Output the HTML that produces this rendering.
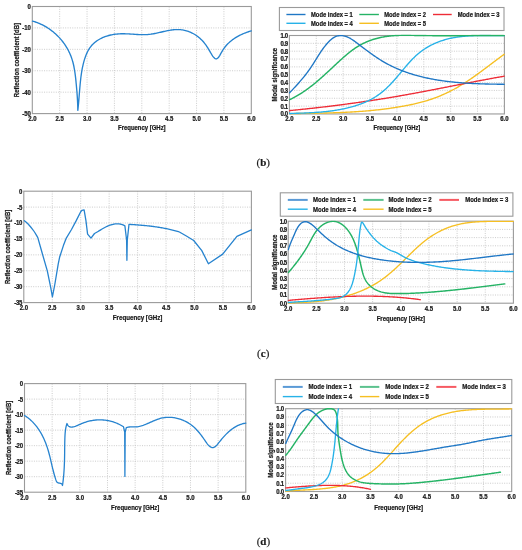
<!DOCTYPE html>
<html><head><meta charset="utf-8"><style>
html,body{margin:0;padding:0;background:#fff;}
body{width:522px;height:550px;overflow:hidden;}
svg{display:block;will-change:transform;}
</style></head><body>
<svg width="522" height="550" viewBox="0 0 522 550">
<rect width="522" height="550" fill="#fff"/>
<path d="M59.67,6.5V113.6M87.05,6.5V113.6M114.42,6.5V113.6M141.8,6.5V113.6M169.18,6.5V113.6M196.55,6.5V113.6M223.93,6.5V113.6M32.3,27.92H251.3M32.3,49.34H251.3M32.3,70.76H251.3M32.3,92.18H251.3" stroke="#c6c6c6" stroke-width="0.9" stroke-dasharray="1,1.35" fill="none"/>
<rect x="32.3" y="6.5" width="219" height="107.1" fill="none" stroke="#9a9a9a" stroke-width="1.1"/>
<clipPath id="ca"><rect x="31.3" y="5.5" width="221" height="109.1"/></clipPath>
<text x="0" y="0" font-size="6" text-anchor="middle" font-weight="bold" fill="#1a1a1a" stroke="#1a1a1a" stroke-width="0.22" font-family='"Liberation Sans", sans-serif' transform="translate(32.3,120.86) scale(1,1.12)">2.0</text>
<text x="0" y="0" font-size="6" text-anchor="middle" font-weight="bold" fill="#1a1a1a" stroke="#1a1a1a" stroke-width="0.22" font-family='"Liberation Sans", sans-serif' transform="translate(59.67,120.86) scale(1,1.12)">2.5</text>
<text x="0" y="0" font-size="6" text-anchor="middle" font-weight="bold" fill="#1a1a1a" stroke="#1a1a1a" stroke-width="0.22" font-family='"Liberation Sans", sans-serif' transform="translate(87.05,120.86) scale(1,1.12)">3.0</text>
<text x="0" y="0" font-size="6" text-anchor="middle" font-weight="bold" fill="#1a1a1a" stroke="#1a1a1a" stroke-width="0.22" font-family='"Liberation Sans", sans-serif' transform="translate(114.42,120.86) scale(1,1.12)">3.5</text>
<text x="0" y="0" font-size="6" text-anchor="middle" font-weight="bold" fill="#1a1a1a" stroke="#1a1a1a" stroke-width="0.22" font-family='"Liberation Sans", sans-serif' transform="translate(141.8,120.86) scale(1,1.12)">4.0</text>
<text x="0" y="0" font-size="6" text-anchor="middle" font-weight="bold" fill="#1a1a1a" stroke="#1a1a1a" stroke-width="0.22" font-family='"Liberation Sans", sans-serif' transform="translate(169.18,120.86) scale(1,1.12)">4.5</text>
<text x="0" y="0" font-size="6" text-anchor="middle" font-weight="bold" fill="#1a1a1a" stroke="#1a1a1a" stroke-width="0.22" font-family='"Liberation Sans", sans-serif' transform="translate(196.55,120.86) scale(1,1.12)">5.0</text>
<text x="0" y="0" font-size="6" text-anchor="middle" font-weight="bold" fill="#1a1a1a" stroke="#1a1a1a" stroke-width="0.22" font-family='"Liberation Sans", sans-serif' transform="translate(223.93,120.86) scale(1,1.12)">5.5</text>
<text x="0" y="0" font-size="6" text-anchor="middle" font-weight="bold" fill="#1a1a1a" stroke="#1a1a1a" stroke-width="0.22" font-family='"Liberation Sans", sans-serif' transform="translate(251.3,120.86) scale(1,1.12)">6.0</text>
<text x="0" y="0" font-size="6" text-anchor="end" font-weight="bold" fill="#1a1a1a" stroke="#1a1a1a" stroke-width="0.22" font-family='"Liberation Sans", sans-serif' transform="translate(30.8,8.92) scale(1,1.12)">0</text>
<text x="0" y="0" font-size="6" text-anchor="end" font-weight="bold" fill="#1a1a1a" stroke="#1a1a1a" stroke-width="0.22" font-family='"Liberation Sans", sans-serif' transform="translate(30.8,30.34) scale(1,1.12)">-10</text>
<text x="0" y="0" font-size="6" text-anchor="end" font-weight="bold" fill="#1a1a1a" stroke="#1a1a1a" stroke-width="0.22" font-family='"Liberation Sans", sans-serif' transform="translate(30.8,51.76) scale(1,1.12)">-20</text>
<text x="0" y="0" font-size="6" text-anchor="end" font-weight="bold" fill="#1a1a1a" stroke="#1a1a1a" stroke-width="0.22" font-family='"Liberation Sans", sans-serif' transform="translate(30.8,73.18) scale(1,1.12)">-30</text>
<text x="0" y="0" font-size="6" text-anchor="end" font-weight="bold" fill="#1a1a1a" stroke="#1a1a1a" stroke-width="0.22" font-family='"Liberation Sans", sans-serif' transform="translate(30.8,94.6) scale(1,1.12)">-40</text>
<text x="0" y="0" font-size="6" text-anchor="end" font-weight="bold" fill="#1a1a1a" stroke="#1a1a1a" stroke-width="0.22" font-family='"Liberation Sans", sans-serif' transform="translate(30.8,116.02) scale(1,1.12)">-50</text>
<text x="0" y="0" font-size="5.96" text-anchor="middle" font-weight="bold" fill="#1a1a1a" stroke="#1a1a1a" stroke-width="0.22" font-family='"Liberation Sans", sans-serif' transform="translate(141.8,130.46) scale(1,1.12)">Frequency [GHz]</text>
<text x="0" y="0" font-size="6" text-anchor="middle" font-weight="bold" fill="#1a1a1a" stroke="#1a1a1a" stroke-width="0.22" font-family='"Liberation Sans", sans-serif' transform="translate(18.86,60.05) rotate(-90) scale(1,1.12)">Reflection coefficient [dB]</text>
<path d="M32.5,21.1L33.48,21.38L34.46,21.69L35.43,22.01L36.39,22.34L37.35,22.7L38.3,23.07L39.24,23.46L40.17,23.87L41.1,24.29L42.01,24.73L42.92,25.18L43.82,25.66L44.72,26.14L45.6,26.65L46.47,27.17L47.34,27.7L48.19,28.25L49.04,28.81L49.87,29.39L50.7,29.98L51.51,30.59L52.32,31.21L53.11,31.84L53.9,32.49L54.67,33.15L55.43,33.82L56.18,34.5L56.91,35.2L57.64,35.91L58.35,36.63L59.05,37.37L59.74,38.11L60.41,38.87L61.07,39.64L61.72,40.42L62.36,41.21L62.98,42.01L63.59,42.82L64.18,43.64L64.76,44.47L65.32,45.31L65.87,46.16L66.41,47.02L66.93,47.88L67.43,48.76L67.92,49.64L68.39,50.54L68.85,51.44L69.29,52.35L69.72,53.26L70.12,54.19L70.51,55.12L70.89,56.06L71.25,57L71.59,57.95L71.91,58.91L72.21,59.87L72.5,60.84L72.78,61.81L73.04,62.79L73.29,63.78L73.52,64.77L73.74,65.76L73.95,66.76L74.14,67.76L74.33,68.76L74.5,69.76L74.67,70.77L74.82,71.78L74.97,72.8L75.11,73.81L75.24,74.83L75.37,75.84L75.49,76.86L75.61,77.88L75.72,78.9L75.82,79.92L75.93,80.94L76.03,81.95L76.12,82.97L76.22,83.98L76.32,85L76.41,86.01L76.5,87.02L76.59,88.03L76.68,89.04L76.77,90.05L76.85,91.06L76.94,92.06L77.02,93.07L77.09,94.08L77.17,95.09L77.24,96.09L77.31,97.1L77.37,98.11L77.43,99.12L77.49,100.13L77.54,101.14L77.59,102.15L77.63,103.16L77.67,104.18L77.71,105.19L77.74,106.21L77.76,107.23L77.78,108.25L77.79,109.27L77.8,110.3L77.92,109.32L78.03,108.33L78.14,107.34L78.24,106.34L78.34,105.35L78.44,104.35L78.54,103.35L78.63,102.35L78.72,101.35L78.81,100.34L78.89,99.34L78.98,98.33L79.06,97.32L79.14,96.31L79.22,95.3L79.3,94.29L79.38,93.28L79.46,92.27L79.55,91.26L79.63,90.26L79.71,89.25L79.8,88.24L79.88,87.23L79.97,86.23L80.06,85.22L80.15,84.22L80.25,83.22L80.35,82.22L80.45,81.23L80.56,80.23L80.67,79.24L80.78,78.25L80.9,77.26L81.03,76.28L81.16,75.3L81.29,74.32L81.44,73.34L81.59,72.37L81.74,71.39L81.91,70.42L82.09,69.44L82.27,68.47L82.47,67.49L82.67,66.52L82.89,65.54L83.11,64.56L83.35,63.58L83.61,62.6L83.87,61.61L84.15,60.62L84.44,59.64L84.75,58.65L85.08,57.67L85.42,56.69L85.79,55.72L86.17,54.76L86.57,53.81L86.99,52.87L87.43,51.95L87.9,51.04L88.38,50.15L88.9,49.29L89.43,48.44L89.99,47.62L90.58,46.82L91.2,46.05L91.84,45.3L92.51,44.58L93.2,43.89L93.91,43.22L94.65,42.57L95.4,41.95L96.18,41.36L96.98,40.79L97.8,40.24L98.63,39.72L99.48,39.23L100.35,38.75L101.24,38.3L102.13,37.87L103.05,37.47L103.97,37.08L104.91,36.72L105.85,36.38L106.81,36.07L107.78,35.77L108.76,35.5L109.74,35.25L110.73,35.01L111.72,34.8L112.72,34.61L113.73,34.44L114.74,34.29L115.75,34.16L116.76,34.05L117.77,33.96L118.79,33.88L119.8,33.83L120.81,33.79L121.82,33.77L122.83,33.76L123.84,33.77L124.84,33.78L125.85,33.81L126.86,33.85L127.86,33.9L128.86,33.95L129.87,34.01L130.87,34.07L131.87,34.14L132.87,34.2L133.87,34.27L134.87,34.34L135.87,34.4L136.87,34.46L137.87,34.52L138.86,34.57L139.86,34.61L140.86,34.64L141.85,34.66L142.85,34.67L143.84,34.67L144.84,34.65L145.83,34.62L146.82,34.57L147.81,34.51L148.81,34.42L149.8,34.31L150.79,34.19L151.78,34.04L152.77,33.88L153.76,33.71L154.75,33.52L155.74,33.32L156.73,33.11L157.72,32.9L158.71,32.67L159.7,32.45L160.69,32.22L161.68,31.99L162.67,31.76L163.66,31.53L164.65,31.31L165.64,31.09L166.63,30.88L167.62,30.68L168.61,30.5L169.6,30.32L170.59,30.16L171.58,30.01L172.57,29.88L173.56,29.77L174.55,29.69L175.54,29.62L176.53,29.58L177.52,29.57L178.51,29.58L179.5,29.62L180.5,29.7L181.49,29.8L182.48,29.94L183.47,30.12L184.46,30.32L185.45,30.56L186.42,30.83L187.4,31.13L188.36,31.45L189.32,31.81L190.26,32.19L191.2,32.6L192.12,33.04L193.02,33.5L193.91,33.99L194.79,34.5L195.64,35.04L196.48,35.6L197.3,36.18L198.09,36.78L198.87,37.41L199.63,38.05L200.36,38.72L201.08,39.4L201.79,40.1L202.47,40.82L203.13,41.55L203.78,42.3L204.41,43.07L205.02,43.85L205.61,44.64L206.19,45.45L206.75,46.27L207.29,47.1L207.82,47.94L208.34,48.8L208.86,49.66L209.37,50.54L209.89,51.43L210.41,52.33L210.95,53.25L211.51,54.19L212.09,55.12L212.69,56.03L213.31,56.88L213.94,57.62L214.59,58.21L215.24,58.63L215.9,58.84L216.57,58.79L217.23,58.49L217.89,57.97L218.52,57.29L219.12,56.48L219.69,55.59L220.23,54.64L220.76,53.67L221.28,52.71L221.81,51.79L222.35,50.89L222.89,50.01L223.44,49.17L224.01,48.34L224.59,47.54L225.19,46.76L225.82,46L226.46,45.25L227.12,44.53L227.81,43.82L228.52,43.12L229.24,42.45L229.98,41.79L230.74,41.15L231.52,40.52L232.31,39.91L233.12,39.32L233.95,38.75L234.78,38.19L235.63,37.65L236.5,37.12L237.37,36.61L238.25,36.12L239.15,35.64L240.05,35.18L240.96,34.74L241.88,34.31L242.8,33.9L243.73,33.5L244.67,33.12L245.61,32.76L246.55,32.41L247.5,32.08L248.45,31.76L249.4,31.46L250.35,31.17L251.3,30.9" fill="none" stroke="#2683cf" stroke-width="1.35" stroke-linejoin="round" stroke-linecap="round"/>
<rect x="279.4" y="7.5" width="224.6" height="23" fill="#fff" stroke="#9a9a9a" stroke-width="1.1"/>
<path d="M286.4,14.5H305.5" stroke="#1f77c5" stroke-width="1.4"/>
<text x="0" y="0" font-size="5.83" text-anchor="start" font-weight="bold" fill="#1a1a1a" stroke="#1a1a1a" stroke-width="0.22" font-family='"Liberation Sans", sans-serif' transform="translate(311,16.85) scale(1,1.12)">Mode index = 1</text>
<path d="M359.3,14.5H378.9" stroke="#25b365" stroke-width="1.4"/>
<text x="0" y="0" font-size="5.83" text-anchor="start" font-weight="bold" fill="#1a1a1a" stroke="#1a1a1a" stroke-width="0.22" font-family='"Liberation Sans", sans-serif' transform="translate(384.2,16.85) scale(1,1.12)">Mode index = 2</text>
<path d="M433,14.5H451.7" stroke="#ee2c36" stroke-width="1.4"/>
<text x="0" y="0" font-size="5.83" text-anchor="start" font-weight="bold" fill="#1a1a1a" stroke="#1a1a1a" stroke-width="0.22" font-family='"Liberation Sans", sans-serif' transform="translate(457.7,16.85) scale(1,1.12)">Mode index = 3</text>
<path d="M286.4,23.3H305.5" stroke="#27b2e8" stroke-width="1.4"/>
<text x="0" y="0" font-size="5.83" text-anchor="start" font-weight="bold" fill="#1a1a1a" stroke="#1a1a1a" stroke-width="0.22" font-family='"Liberation Sans", sans-serif' transform="translate(311,25.65) scale(1,1.12)">Mode index = 4</text>
<path d="M359.3,23.3H378.9" stroke="#f6bf22" stroke-width="1.4"/>
<text x="0" y="0" font-size="5.83" text-anchor="start" font-weight="bold" fill="#1a1a1a" stroke="#1a1a1a" stroke-width="0.22" font-family='"Liberation Sans", sans-serif' transform="translate(384.2,25.65) scale(1,1.12)">Mode index = 5</text>
<path d="M316.27,35.5V113.95M343.15,35.5V113.95M370.02,35.5V113.95M396.9,35.5V113.95M423.77,35.5V113.95M450.65,35.5V113.95M477.52,35.5V113.95M289.4,43.34H504.4M289.4,51.19H504.4M289.4,59.04H504.4M289.4,66.88H504.4M289.4,74.72H504.4M289.4,82.57H504.4M289.4,90.41H504.4M289.4,98.26H504.4M289.4,106.11H504.4" stroke="#c6c6c6" stroke-width="0.9" stroke-dasharray="1,1.35" fill="none"/>
<rect x="289.4" y="35.5" width="215" height="78.45" fill="none" stroke="#9a9a9a" stroke-width="1.1"/>
<clipPath id="cb"><rect x="288.4" y="34.5" width="217" height="80.45"/></clipPath>
<text x="0" y="0" font-size="6" text-anchor="middle" font-weight="bold" fill="#1a1a1a" stroke="#1a1a1a" stroke-width="0.22" font-family='"Liberation Sans", sans-serif' transform="translate(289.4,120.96) scale(1,1.12)">2.0</text>
<text x="0" y="0" font-size="6" text-anchor="middle" font-weight="bold" fill="#1a1a1a" stroke="#1a1a1a" stroke-width="0.22" font-family='"Liberation Sans", sans-serif' transform="translate(316.27,120.96) scale(1,1.12)">2.5</text>
<text x="0" y="0" font-size="6" text-anchor="middle" font-weight="bold" fill="#1a1a1a" stroke="#1a1a1a" stroke-width="0.22" font-family='"Liberation Sans", sans-serif' transform="translate(343.15,120.96) scale(1,1.12)">3.0</text>
<text x="0" y="0" font-size="6" text-anchor="middle" font-weight="bold" fill="#1a1a1a" stroke="#1a1a1a" stroke-width="0.22" font-family='"Liberation Sans", sans-serif' transform="translate(370.02,120.96) scale(1,1.12)">3.5</text>
<text x="0" y="0" font-size="6" text-anchor="middle" font-weight="bold" fill="#1a1a1a" stroke="#1a1a1a" stroke-width="0.22" font-family='"Liberation Sans", sans-serif' transform="translate(396.9,120.96) scale(1,1.12)">4.0</text>
<text x="0" y="0" font-size="6" text-anchor="middle" font-weight="bold" fill="#1a1a1a" stroke="#1a1a1a" stroke-width="0.22" font-family='"Liberation Sans", sans-serif' transform="translate(423.77,120.96) scale(1,1.12)">4.5</text>
<text x="0" y="0" font-size="6" text-anchor="middle" font-weight="bold" fill="#1a1a1a" stroke="#1a1a1a" stroke-width="0.22" font-family='"Liberation Sans", sans-serif' transform="translate(450.65,120.96) scale(1,1.12)">5.0</text>
<text x="0" y="0" font-size="6" text-anchor="middle" font-weight="bold" fill="#1a1a1a" stroke="#1a1a1a" stroke-width="0.22" font-family='"Liberation Sans", sans-serif' transform="translate(477.52,120.96) scale(1,1.12)">5.5</text>
<text x="0" y="0" font-size="6" text-anchor="middle" font-weight="bold" fill="#1a1a1a" stroke="#1a1a1a" stroke-width="0.22" font-family='"Liberation Sans", sans-serif' transform="translate(504.4,120.96) scale(1,1.12)">6.0</text>
<text x="0" y="0" font-size="6" text-anchor="end" font-weight="bold" fill="#1a1a1a" stroke="#1a1a1a" stroke-width="0.22" font-family='"Liberation Sans", sans-serif' letter-spacing="-0.4" transform="translate(287.6,37.92) scale(1,1.12)">1.0</text>
<text x="0" y="0" font-size="6" text-anchor="end" font-weight="bold" fill="#1a1a1a" stroke="#1a1a1a" stroke-width="0.22" font-family='"Liberation Sans", sans-serif' letter-spacing="-0.4" transform="translate(287.6,45.76) scale(1,1.12)">0.9</text>
<text x="0" y="0" font-size="6" text-anchor="end" font-weight="bold" fill="#1a1a1a" stroke="#1a1a1a" stroke-width="0.22" font-family='"Liberation Sans", sans-serif' letter-spacing="-0.4" transform="translate(287.6,53.61) scale(1,1.12)">0.8</text>
<text x="0" y="0" font-size="6" text-anchor="end" font-weight="bold" fill="#1a1a1a" stroke="#1a1a1a" stroke-width="0.22" font-family='"Liberation Sans", sans-serif' letter-spacing="-0.4" transform="translate(287.6,61.45) scale(1,1.12)">0.7</text>
<text x="0" y="0" font-size="6" text-anchor="end" font-weight="bold" fill="#1a1a1a" stroke="#1a1a1a" stroke-width="0.22" font-family='"Liberation Sans", sans-serif' letter-spacing="-0.4" transform="translate(287.6,69.3) scale(1,1.12)">0.6</text>
<text x="0" y="0" font-size="6" text-anchor="end" font-weight="bold" fill="#1a1a1a" stroke="#1a1a1a" stroke-width="0.22" font-family='"Liberation Sans", sans-serif' letter-spacing="-0.4" transform="translate(287.6,77.14) scale(1,1.12)">0.5</text>
<text x="0" y="0" font-size="6" text-anchor="end" font-weight="bold" fill="#1a1a1a" stroke="#1a1a1a" stroke-width="0.22" font-family='"Liberation Sans", sans-serif' letter-spacing="-0.4" transform="translate(287.6,84.99) scale(1,1.12)">0.4</text>
<text x="0" y="0" font-size="6" text-anchor="end" font-weight="bold" fill="#1a1a1a" stroke="#1a1a1a" stroke-width="0.22" font-family='"Liberation Sans", sans-serif' letter-spacing="-0.4" transform="translate(287.6,92.83) scale(1,1.12)">0.3</text>
<text x="0" y="0" font-size="6" text-anchor="end" font-weight="bold" fill="#1a1a1a" stroke="#1a1a1a" stroke-width="0.22" font-family='"Liberation Sans", sans-serif' letter-spacing="-0.4" transform="translate(287.6,100.68) scale(1,1.12)">0.2</text>
<text x="0" y="0" font-size="6" text-anchor="end" font-weight="bold" fill="#1a1a1a" stroke="#1a1a1a" stroke-width="0.22" font-family='"Liberation Sans", sans-serif' letter-spacing="-0.4" transform="translate(287.6,108.52) scale(1,1.12)">0.1</text>
<text x="0" y="0" font-size="6" text-anchor="end" font-weight="bold" fill="#1a1a1a" stroke="#1a1a1a" stroke-width="0.22" font-family='"Liberation Sans", sans-serif' letter-spacing="-0.4" transform="translate(287.6,116.37) scale(1,1.12)">0.0</text>
<text x="0" y="0" font-size="5.85" text-anchor="middle" font-weight="bold" fill="#1a1a1a" stroke="#1a1a1a" stroke-width="0.22" font-family='"Liberation Sans", sans-serif' transform="translate(396.9,130.25) scale(1,1.12)">Frequency [GHz]</text>
<text x="0" y="0" font-size="6" text-anchor="middle" font-weight="bold" fill="#1a1a1a" stroke="#1a1a1a" stroke-width="0.22" font-family='"Liberation Sans", sans-serif' transform="translate(276.76,74.72) rotate(-90) scale(1,1.12)">Modal significance</text>
<path d="M289.6,113.6L290.6,113.59L291.6,113.58L292.6,113.56L293.61,113.55L294.61,113.54L295.61,113.52L296.61,113.51L297.62,113.5L298.62,113.48L299.62,113.47L300.62,113.46L301.63,113.44L302.63,113.43L303.63,113.42L304.64,113.4L305.64,113.39L306.65,113.37L307.65,113.36L308.66,113.34L309.66,113.33L310.66,113.31L311.67,113.3L312.67,113.28L313.68,113.26L314.68,113.25L315.69,113.23L316.69,113.21L317.7,113.19L318.7,113.17L319.71,113.15L320.72,113.13L321.72,113.1L322.73,113.08L323.73,113.06L324.74,113.03L325.74,113.01L326.75,112.98L327.75,112.95L328.76,112.93L329.77,112.9L330.77,112.87L331.78,112.84L332.78,112.8L333.79,112.77L334.79,112.74L335.8,112.7L336.8,112.67L337.81,112.63L338.82,112.59L339.82,112.55L340.83,112.51L341.83,112.47L342.84,112.42L343.84,112.38L344.85,112.33L345.85,112.28L346.85,112.23L347.86,112.18L348.86,112.13L349.87,112.07L350.87,112.02L351.88,111.96L352.88,111.9L353.88,111.84L354.89,111.78L355.89,111.72L356.89,111.65L357.9,111.58L358.9,111.51L359.9,111.44L360.9,111.37L361.9,111.3L362.91,111.22L363.91,111.14L364.91,111.06L365.91,110.98L366.91,110.89L367.91,110.81L368.91,110.72L369.91,110.63L370.91,110.53L371.91,110.44L372.91,110.34L373.91,110.24L374.91,110.14L375.91,110.04L376.91,109.93L377.9,109.82L378.9,109.71L379.9,109.6L380.9,109.48L381.89,109.36L382.89,109.24L383.88,109.12L384.88,108.99L385.87,108.86L386.87,108.73L387.86,108.6L388.86,108.46L389.85,108.32L390.84,108.18L391.84,108.04L392.83,107.89L393.82,107.74L394.81,107.59L395.8,107.43L396.79,107.27L397.78,107.11L398.77,106.95L399.76,106.78L400.75,106.61L401.74,106.44L402.73,106.26L403.72,106.08L404.7,105.9L405.69,105.71L406.68,105.52L407.66,105.33L408.65,105.13L409.63,104.93L410.61,104.73L411.59,104.52L412.58,104.31L413.56,104.09L414.54,103.87L415.51,103.65L416.49,103.42L417.47,103.18L418.44,102.94L419.41,102.7L420.39,102.45L421.36,102.19L422.32,101.93L423.29,101.66L424.26,101.39L425.22,101.11L426.18,100.83L427.14,100.54L428.1,100.24L429.06,99.94L430.01,99.63L430.96,99.31L431.91,98.99L432.86,98.66L433.81,98.32L434.75,97.98L435.69,97.63L436.63,97.27L437.57,96.9L438.5,96.53L439.43,96.15L440.36,95.77L441.29,95.38L442.21,94.98L443.13,94.58L444.05,94.17L444.96,93.75L445.88,93.33L446.79,92.9L447.69,92.46L448.6,92.02L449.5,91.58L450.4,91.12L451.29,90.67L452.18,90.2L453.07,89.73L453.96,89.26L454.84,88.77L455.72,88.29L456.6,87.8L457.47,87.3L458.34,86.8L459.21,86.29L460.07,85.78L460.93,85.26L461.79,84.74L462.64,84.21L463.49,83.68L464.34,83.14L465.19,82.6L466.03,82.06L466.87,81.51L467.71,80.96L468.54,80.4L469.38,79.84L470.21,79.28L471.04,78.71L471.86,78.14L472.69,77.57L473.51,76.99L474.33,76.42L475.15,75.84L475.97,75.25L476.78,74.67L477.6,74.08L478.41,73.49L479.22,72.9L480.04,72.3L480.85,71.71L481.65,71.11L482.46,70.51L483.27,69.91L484.07,69.31L484.88,68.71L485.68,68.11L486.49,67.5L487.29,66.9L488.09,66.29L488.9,65.69L489.7,65.08L490.5,64.48L491.3,63.87L492.11,63.27L492.91,62.66L493.71,62.06L494.51,61.45L495.32,60.85L496.12,60.25L496.93,59.65L497.73,59.05L498.54,58.45L499.34,57.85L500.15,57.25L500.96,56.66L501.77,56.07L502.58,55.48L503.39,54.89L504.2,54.3" fill="none" stroke="#f6bf22" stroke-width="1.35" stroke-linejoin="round" stroke-linecap="round" clip-path="url(#cb)"/>
<path d="M289.6,110.6L290.6,110.5L291.6,110.4L292.61,110.3L293.61,110.2L294.61,110.11L295.61,110.01L296.62,109.9L297.62,109.8L298.62,109.7L299.62,109.6L300.63,109.5L301.63,109.39L302.63,109.29L303.63,109.18L304.63,109.08L305.64,108.97L306.64,108.86L307.64,108.76L308.64,108.65L309.64,108.54L310.64,108.43L311.64,108.32L312.64,108.21L313.65,108.1L314.65,107.99L315.65,107.87L316.65,107.76L317.65,107.65L318.65,107.53L319.65,107.42L320.65,107.3L321.65,107.19L322.65,107.07L323.65,106.95L324.65,106.83L325.65,106.71L326.65,106.59L327.65,106.47L328.65,106.35L329.65,106.23L330.65,106.11L331.65,105.99L332.65,105.86L333.65,105.74L334.65,105.61L335.65,105.49L336.64,105.36L337.64,105.23L338.64,105.11L339.64,104.98L340.64,104.85L341.64,104.72L342.64,104.59L343.63,104.46L344.63,104.32L345.63,104.19L346.63,104.06L347.63,103.93L348.62,103.79L349.62,103.66L350.62,103.52L351.62,103.38L352.61,103.24L353.61,103.11L354.61,102.97L355.6,102.83L356.6,102.69L357.6,102.55L358.59,102.41L359.59,102.26L360.59,102.12L361.58,101.98L362.58,101.83L363.58,101.69L364.57,101.54L365.57,101.39L366.56,101.25L367.56,101.1L368.55,100.95L369.55,100.8L370.55,100.65L371.54,100.5L372.54,100.35L373.53,100.19L374.53,100.04L375.52,99.89L376.51,99.73L377.51,99.58L378.5,99.42L379.5,99.26L380.49,99.1L381.49,98.95L382.48,98.79L383.47,98.63L384.47,98.46L385.46,98.3L386.45,98.14L387.45,97.98L388.44,97.81L389.43,97.65L390.42,97.48L391.42,97.32L392.41,97.15L393.4,96.98L394.39,96.81L395.39,96.64L396.38,96.47L397.37,96.3L398.36,96.13L399.35,95.96L400.34,95.79L401.34,95.61L402.33,95.44L403.32,95.26L404.31,95.09L405.3,94.91L406.29,94.73L407.28,94.55L408.27,94.37L409.26,94.2L410.25,94.01L411.24,93.83L412.23,93.65L413.22,93.47L414.21,93.29L415.2,93.11L416.19,92.92L417.18,92.74L418.17,92.55L419.16,92.37L420.15,92.18L421.14,92L422.13,91.81L423.12,91.62L424.1,91.44L425.09,91.25L426.08,91.06L427.07,90.87L428.06,90.68L429.05,90.49L430.04,90.3L431.02,90.11L432.01,89.92L433,89.73L433.99,89.54L434.98,89.35L435.97,89.16L436.95,88.97L437.94,88.78L438.93,88.59L439.92,88.39L440.91,88.2L441.9,88.01L442.88,87.82L443.87,87.62L444.86,87.43L445.85,87.24L446.84,87.04L447.82,86.85L448.81,86.66L449.8,86.46L450.79,86.27L451.78,86.08L452.76,85.88L453.75,85.69L454.74,85.5L455.73,85.31L456.71,85.11L457.7,84.92L458.69,84.73L459.68,84.53L460.67,84.34L461.65,84.15L462.64,83.96L463.63,83.76L464.62,83.57L465.61,83.38L466.6,83.19L467.58,83L468.57,82.8L469.56,82.61L470.55,82.42L471.54,82.23L472.53,82.04L473.51,81.85L474.5,81.66L475.49,81.47L476.48,81.28L477.47,81.1L478.46,80.91L479.45,80.72L480.44,80.53L481.42,80.34L482.41,80.16L483.4,79.97L484.39,79.79L485.38,79.6L486.37,79.42L487.36,79.23L488.35,79.05L489.34,78.87L490.33,78.68L491.32,78.5L492.31,78.32L493.3,78.14L494.29,77.96L495.28,77.78L496.27,77.6L497.26,77.42L498.25,77.24L499.24,77.07L500.23,76.89L501.22,76.72L502.22,76.54L503.21,76.37L504.2,76.19" fill="none" stroke="#ee2c36" stroke-width="1.35" stroke-linejoin="round" stroke-linecap="round" clip-path="url(#cb)"/>
<path d="M289.6,113.5L290.6,113.47L291.59,113.44L292.59,113.41L293.59,113.38L294.58,113.35L295.58,113.32L296.58,113.29L297.58,113.26L298.59,113.23L299.59,113.2L300.59,113.16L301.6,113.13L302.6,113.09L303.61,113.05L304.61,113.01L305.62,112.97L306.62,112.93L307.63,112.88L308.64,112.84L309.65,112.79L310.65,112.73L311.66,112.68L312.67,112.62L313.68,112.56L314.69,112.5L315.69,112.43L316.7,112.36L317.71,112.29L318.72,112.21L319.73,112.13L320.73,112.05L321.74,111.96L322.75,111.87L323.75,111.77L324.76,111.68L325.77,111.57L326.77,111.46L327.78,111.35L328.78,111.23L329.78,111.11L330.79,110.98L331.79,110.85L332.79,110.71L333.79,110.56L334.79,110.41L335.79,110.26L336.78,110.1L337.78,109.93L338.78,109.76L339.77,109.58L340.76,109.39L341.76,109.2L342.75,109L343.74,108.8L344.72,108.58L345.71,108.37L346.7,108.14L347.68,107.91L348.66,107.66L349.64,107.42L350.62,107.16L351.6,106.89L352.57,106.62L353.55,106.34L354.52,106.05L355.48,105.76L356.45,105.45L357.41,105.14L358.37,104.81L359.32,104.48L360.27,104.14L361.22,103.79L362.16,103.43L363.1,103.06L364.03,102.68L364.95,102.28L365.87,101.88L366.79,101.47L367.7,101.05L368.6,100.62L369.5,100.18L370.39,99.72L371.27,99.26L372.14,98.78L373.01,98.29L373.87,97.79L374.72,97.28L375.57,96.76L376.4,96.22L377.23,95.67L378.05,95.11L378.85,94.54L379.65,93.96L380.45,93.36L381.23,92.75L382,92.13L382.77,91.5L383.53,90.86L384.28,90.21L385.02,89.55L385.76,88.88L386.49,88.21L387.21,87.52L387.93,86.83L388.64,86.12L389.35,85.41L390.05,84.7L390.75,83.97L391.44,83.24L392.13,82.51L392.81,81.76L393.49,81.02L394.16,80.26L394.83,79.51L395.5,78.75L396.16,77.98L396.82,77.21L397.48,76.44L398.14,75.67L398.79,74.89L399.45,74.11L400.1,73.33L400.75,72.55L401.4,71.76L402.05,70.98L402.69,70.2L403.35,69.42L404,68.64L404.65,67.86L405.3,67.08L405.96,66.31L406.62,65.54L407.28,64.78L407.95,64.01L408.62,63.26L409.29,62.5L409.97,61.76L410.65,61.02L411.34,60.28L412.03,59.56L412.73,58.84L413.44,58.12L414.15,57.42L414.87,56.73L415.6,56.04L416.33,55.37L417.08,54.7L417.83,54.05L418.59,53.41L419.37,52.78L420.15,52.16L420.94,51.55L421.74,50.96L422.55,50.38L423.36,49.81L424.19,49.25L425.02,48.7L425.87,48.17L426.72,47.64L427.57,47.13L428.44,46.63L429.31,46.15L430.19,45.67L431.08,45.21L431.97,44.76L432.87,44.32L433.78,43.89L434.69,43.47L435.6,43.07L436.53,42.68L437.46,42.3L438.39,41.93L439.33,41.58L440.27,41.23L441.22,40.9L442.17,40.58L443.12,40.27L444.08,39.98L445.05,39.69L446.01,39.42L446.98,39.16L447.95,38.91L448.93,38.67L449.91,38.45L450.89,38.23L451.88,38.03L452.86,37.83L453.85,37.65L454.84,37.47L455.84,37.31L456.84,37.15L457.83,37L458.83,36.87L459.84,36.74L460.84,36.62L461.85,36.5L462.85,36.4L463.86,36.3L464.87,36.21L465.89,36.12L466.9,36.05L467.91,35.98L468.93,35.91L469.94,35.85L470.96,35.8L471.97,35.75L472.99,35.71L474.01,35.67L475.03,35.64L476.05,35.61L477.06,35.59L478.08,35.57L479.1,35.55L480.12,35.54L481.14,35.53L482.15,35.52L483.17,35.52L484.19,35.52L485.2,35.52L486.21,35.52L487.23,35.53L488.24,35.53L489.25,35.54L490.26,35.54L491.27,35.55L492.28,35.56L493.28,35.57L494.28,35.58L495.29,35.59L496.28,35.59L497.28,35.6L498.28,35.61L499.27,35.61L500.26,35.61L501.25,35.61L502.24,35.61L503.22,35.61L504.2,35.6" fill="none" stroke="#27b2e8" stroke-width="1.35" stroke-linejoin="round" stroke-linecap="round" clip-path="url(#cb)"/>
<path d="M289.6,99.7L290.52,99.26L291.44,98.81L292.35,98.36L293.25,97.89L294.15,97.42L295.04,96.94L295.92,96.45L296.8,95.95L297.67,95.44L298.54,94.93L299.39,94.41L300.25,93.88L301.1,93.35L301.94,92.81L302.78,92.26L303.61,91.7L304.44,91.14L305.26,90.57L306.08,90L306.89,89.42L307.7,88.83L308.5,88.24L309.3,87.65L310.1,87.04L310.89,86.43L311.68,85.82L312.46,85.2L313.25,84.58L314.02,83.95L314.8,83.32L315.57,82.69L316.34,82.05L317.11,81.4L317.87,80.75L318.63,80.1L319.39,79.45L320.15,78.79L320.9,78.13L321.65,77.46L322.4,76.79L323.15,76.12L323.9,75.45L324.65,74.77L325.39,74.09L326.14,73.41L326.88,72.73L327.62,72.05L328.36,71.36L329.1,70.68L329.84,69.99L330.58,69.3L331.32,68.61L332.06,67.92L332.8,67.22L333.54,66.53L334.28,65.84L335.02,65.14L335.76,64.45L336.51,63.76L337.25,63.06L338,62.37L338.74,61.68L339.49,60.99L340.24,60.3L340.99,59.62L341.74,58.94L342.5,58.26L343.26,57.58L344.02,56.91L344.78,56.25L345.55,55.59L346.32,54.93L347.1,54.28L347.88,53.64L348.66,53.01L349.45,52.38L350.24,51.76L351.03,51.15L351.83,50.54L352.64,49.95L353.45,49.36L354.26,48.79L355.09,48.22L355.91,47.67L356.75,47.13L357.59,46.6L358.43,46.08L359.28,45.58L360.14,45.08L361.01,44.6L361.88,44.14L362.76,43.69L363.65,43.25L364.54,42.82L365.44,42.41L366.34,42.01L367.25,41.62L368.17,41.25L369.09,40.88L370.01,40.53L370.95,40.2L371.88,39.87L372.82,39.56L373.77,39.26L374.72,38.97L375.67,38.7L376.63,38.43L377.59,38.18L378.56,37.94L379.53,37.71L380.5,37.5L381.48,37.29L382.46,37.1L383.44,36.92L384.43,36.75L385.41,36.59L386.4,36.44L387.4,36.3L388.39,36.18L389.39,36.06L390.39,35.96L391.39,35.86L392.39,35.77L393.4,35.69L394.4,35.63L395.41,35.56L396.42,35.51L397.43,35.46L398.44,35.42L399.45,35.39L400.46,35.36L401.48,35.34L402.49,35.33L403.51,35.32L404.52,35.31L405.54,35.31L406.56,35.31L407.57,35.31L408.59,35.32L409.61,35.33L410.62,35.34L411.64,35.36L412.66,35.37L413.67,35.39L414.69,35.41L415.7,35.43L416.72,35.45L417.73,35.46L418.74,35.48L419.75,35.5L420.76,35.51L421.77,35.53L422.78,35.54L423.79,35.56L424.8,35.57L425.81,35.58L426.81,35.6L427.82,35.61L428.82,35.62L429.83,35.63L430.83,35.64L431.84,35.65L432.84,35.66L433.85,35.67L434.85,35.67L435.85,35.68L436.86,35.69L437.86,35.69L438.86,35.7L439.86,35.7L440.87,35.71L441.87,35.71L442.87,35.71L443.87,35.71L444.88,35.71L445.88,35.72L446.88,35.72L447.89,35.71L448.89,35.71L449.89,35.71L450.9,35.71L451.9,35.71L452.9,35.7L453.91,35.7L454.91,35.7L455.92,35.69L456.92,35.69L457.92,35.68L458.93,35.68L459.93,35.67L460.94,35.67L461.94,35.66L462.95,35.65L463.95,35.65L464.96,35.64L465.96,35.63L466.97,35.63L467.97,35.62L468.98,35.61L469.98,35.61L470.99,35.6L472,35.59L473,35.59L474.01,35.58L475.01,35.58L476.02,35.57L477.02,35.56L478.03,35.56L479.04,35.55L480.04,35.55L481.05,35.54L482.06,35.54L483.06,35.54L484.07,35.53L485.07,35.53L486.08,35.53L487.09,35.53L488.09,35.53L489.1,35.52L490.11,35.52L491.11,35.52L492.12,35.53L493.13,35.53L494.13,35.53L495.14,35.53L496.15,35.54L497.15,35.54L498.16,35.55L499.17,35.55L500.17,35.56L501.18,35.57L502.19,35.58L503.19,35.59L504.2,35.6" fill="none" stroke="#25b365" stroke-width="1.45" stroke-linejoin="round" stroke-linecap="round" clip-path="url(#cb)"/>
<path d="M289.6,92.8L290.29,92.07L290.98,91.34L291.67,90.6L292.36,89.87L293.05,89.14L293.73,88.4L294.42,87.66L295.1,86.92L295.78,86.18L296.46,85.44L297.13,84.69L297.8,83.94L298.47,83.19L299.14,82.44L299.8,81.68L300.46,80.92L301.11,80.16L301.76,79.39L302.41,78.62L303.05,77.85L303.69,77.08L304.32,76.3L304.95,75.51L305.57,74.72L306.19,73.93L306.8,73.13L307.4,72.33L308,71.52L308.6,70.71L309.18,69.9L309.76,69.07L310.34,68.25L310.9,67.41L311.46,66.58L312.01,65.73L312.56,64.89L313.11,64.04L313.65,63.18L314.18,62.33L314.72,61.47L315.25,60.61L315.78,59.75L316.32,58.89L316.85,58.04L317.38,57.18L317.92,56.32L318.46,55.47L319,54.61L319.55,53.76L320.1,52.92L320.66,52.08L321.22,51.24L321.79,50.41L322.37,49.58L322.96,48.76L323.55,47.95L324.16,47.15L324.77,46.35L325.4,45.56L326.04,44.79L326.69,44.02L327.36,43.26L328.04,42.51L328.73,41.78L329.45,41.05L330.17,40.34L330.92,39.66L331.69,39.01L332.48,38.39L333.29,37.82L334.13,37.31L334.99,36.85L335.89,36.47L336.81,36.16L337.75,35.92L338.71,35.74L339.68,35.64L340.66,35.6L341.63,35.62L342.6,35.7L343.56,35.84L344.5,36.04L345.42,36.29L346.34,36.59L347.24,36.93L348.12,37.32L349,37.75L349.87,38.21L350.73,38.7L351.58,39.23L352.42,39.77L353.26,40.34L354.09,40.92L354.92,41.52L355.75,42.13L356.57,42.75L357.39,43.37L358.21,43.99L359.03,44.61L359.85,45.23L360.67,45.86L361.49,46.48L362.31,47.1L363.13,47.72L363.95,48.34L364.77,48.96L365.59,49.57L366.41,50.19L367.23,50.8L368.06,51.41L368.88,52.02L369.7,52.62L370.53,53.22L371.36,53.82L372.19,54.41L373.02,54.99L373.85,55.58L374.69,56.16L375.53,56.73L376.37,57.3L377.21,57.86L378.05,58.41L378.9,58.96L379.75,59.51L380.61,60.04L381.46,60.57L382.32,61.09L383.19,61.6L384.05,62.11L384.92,62.61L385.8,63.1L386.68,63.58L387.56,64.05L388.44,64.52L389.33,64.98L390.22,65.43L391.11,65.88L392,66.32L392.9,66.75L393.81,67.17L394.71,67.59L395.62,68L396.53,68.4L397.44,68.8L398.36,69.19L399.28,69.57L400.2,69.95L401.12,70.32L402.05,70.68L402.98,71.04L403.91,71.39L404.85,71.73L405.79,72.07L406.72,72.4L407.67,72.72L408.61,73.04L409.56,73.36L410.51,73.66L411.46,73.96L412.41,74.26L413.37,74.55L414.32,74.83L415.28,75.11L416.25,75.38L417.21,75.65L418.17,75.91L419.14,76.16L420.11,76.41L421.08,76.66L422.06,76.9L423.03,77.13L424.01,77.36L424.99,77.58L425.97,77.8L426.95,78.02L427.93,78.23L428.91,78.43L429.9,78.63L430.89,78.82L431.88,79.01L432.87,79.2L433.86,79.38L434.85,79.56L435.84,79.73L436.84,79.9L437.84,80.06L438.83,80.22L439.83,80.37L440.83,80.52L441.83,80.67L442.83,80.81L443.84,80.95L444.84,81.09L445.84,81.22L446.85,81.34L447.86,81.47L448.86,81.59L449.87,81.7L450.88,81.82L451.89,81.92L452.9,82.03L453.91,82.13L454.92,82.23L455.93,82.33L456.94,82.42L457.95,82.51L458.96,82.6L459.97,82.68L460.98,82.76L462,82.84L463.01,82.91L464.02,82.98L465.04,83.05L466.05,83.12L467.06,83.18L468.07,83.25L469.09,83.3L470.1,83.36L471.11,83.42L472.13,83.47L473.14,83.52L474.15,83.57L475.16,83.61L476.17,83.66L477.18,83.7L478.19,83.74L479.2,83.77L480.21,83.81L481.22,83.85L482.23,83.88L483.24,83.91L484.25,83.94L485.25,83.97L486.26,83.99L487.27,84.02L488.27,84.04L489.27,84.07L490.28,84.09L491.28,84.11L492.28,84.13L493.28,84.14L494.28,84.16L495.27,84.18L496.27,84.19L497.27,84.21L498.26,84.22L499.25,84.24L500.24,84.25L501.23,84.26L502.22,84.27L503.21,84.29L504.2,84.3" fill="none" stroke="#1f77c5" stroke-width="1.35" stroke-linejoin="round" stroke-linecap="round" clip-path="url(#cb)"/>
<text x="263.2" y="165.5" font-size="11" text-anchor="middle" font-weight="normal" fill="#1a1a1a" font-family='"Liberation Serif", serif' stroke="#1a1a1a" stroke-width="0.18">(<tspan font-weight="bold">b</tspan>)</text>
<path d="M52.25,191.2V302.6M80.7,191.2V302.6M109.15,191.2V302.6M137.6,191.2V302.6M166.05,191.2V302.6M194.5,191.2V302.6M222.95,191.2V302.6M23.8,207.11H251.4M23.8,223.03H251.4M23.8,238.94H251.4M23.8,254.86H251.4M23.8,270.77H251.4M23.8,286.69H251.4" stroke="#c6c6c6" stroke-width="0.9" stroke-dasharray="1,1.35" fill="none"/>
<rect x="23.8" y="191.2" width="227.6" height="111.4" fill="none" stroke="#9a9a9a" stroke-width="1.1"/>
<clipPath id="cc"><rect x="22.8" y="190.2" width="229.6" height="113.4"/></clipPath>
<text x="0" y="0" font-size="6" text-anchor="middle" font-weight="bold" fill="#1a1a1a" stroke="#1a1a1a" stroke-width="0.22" font-family='"Liberation Sans", sans-serif' transform="translate(23.8,310.16) scale(1,1.12)">2.0</text>
<text x="0" y="0" font-size="6" text-anchor="middle" font-weight="bold" fill="#1a1a1a" stroke="#1a1a1a" stroke-width="0.22" font-family='"Liberation Sans", sans-serif' transform="translate(52.25,310.16) scale(1,1.12)">2.5</text>
<text x="0" y="0" font-size="6" text-anchor="middle" font-weight="bold" fill="#1a1a1a" stroke="#1a1a1a" stroke-width="0.22" font-family='"Liberation Sans", sans-serif' transform="translate(80.7,310.16) scale(1,1.12)">3.0</text>
<text x="0" y="0" font-size="6" text-anchor="middle" font-weight="bold" fill="#1a1a1a" stroke="#1a1a1a" stroke-width="0.22" font-family='"Liberation Sans", sans-serif' transform="translate(109.15,310.16) scale(1,1.12)">3.5</text>
<text x="0" y="0" font-size="6" text-anchor="middle" font-weight="bold" fill="#1a1a1a" stroke="#1a1a1a" stroke-width="0.22" font-family='"Liberation Sans", sans-serif' transform="translate(137.6,310.16) scale(1,1.12)">4.0</text>
<text x="0" y="0" font-size="6" text-anchor="middle" font-weight="bold" fill="#1a1a1a" stroke="#1a1a1a" stroke-width="0.22" font-family='"Liberation Sans", sans-serif' transform="translate(166.05,310.16) scale(1,1.12)">4.5</text>
<text x="0" y="0" font-size="6" text-anchor="middle" font-weight="bold" fill="#1a1a1a" stroke="#1a1a1a" stroke-width="0.22" font-family='"Liberation Sans", sans-serif' transform="translate(194.5,310.16) scale(1,1.12)">5.0</text>
<text x="0" y="0" font-size="6" text-anchor="middle" font-weight="bold" fill="#1a1a1a" stroke="#1a1a1a" stroke-width="0.22" font-family='"Liberation Sans", sans-serif' transform="translate(222.95,310.16) scale(1,1.12)">5.5</text>
<text x="0" y="0" font-size="6" text-anchor="middle" font-weight="bold" fill="#1a1a1a" stroke="#1a1a1a" stroke-width="0.22" font-family='"Liberation Sans", sans-serif' transform="translate(251.4,310.16) scale(1,1.12)">6.0</text>
<text x="0" y="0" font-size="6" text-anchor="end" font-weight="bold" fill="#1a1a1a" stroke="#1a1a1a" stroke-width="0.22" font-family='"Liberation Sans", sans-serif' letter-spacing="-0.3" transform="translate(22,193.62) scale(1,1.12)">0</text>
<text x="0" y="0" font-size="6" text-anchor="end" font-weight="bold" fill="#1a1a1a" stroke="#1a1a1a" stroke-width="0.22" font-family='"Liberation Sans", sans-serif' letter-spacing="-0.3" transform="translate(22,209.53) scale(1,1.12)">-5</text>
<text x="0" y="0" font-size="6" text-anchor="end" font-weight="bold" fill="#1a1a1a" stroke="#1a1a1a" stroke-width="0.22" font-family='"Liberation Sans", sans-serif' letter-spacing="-0.3" transform="translate(22,225.45) scale(1,1.12)">-10</text>
<text x="0" y="0" font-size="6" text-anchor="end" font-weight="bold" fill="#1a1a1a" stroke="#1a1a1a" stroke-width="0.22" font-family='"Liberation Sans", sans-serif' letter-spacing="-0.3" transform="translate(22,241.36) scale(1,1.12)">-15</text>
<text x="0" y="0" font-size="6" text-anchor="end" font-weight="bold" fill="#1a1a1a" stroke="#1a1a1a" stroke-width="0.22" font-family='"Liberation Sans", sans-serif' letter-spacing="-0.3" transform="translate(22,257.27) scale(1,1.12)">-20</text>
<text x="0" y="0" font-size="6" text-anchor="end" font-weight="bold" fill="#1a1a1a" stroke="#1a1a1a" stroke-width="0.22" font-family='"Liberation Sans", sans-serif' letter-spacing="-0.3" transform="translate(22,273.19) scale(1,1.12)">-25</text>
<text x="0" y="0" font-size="6" text-anchor="end" font-weight="bold" fill="#1a1a1a" stroke="#1a1a1a" stroke-width="0.22" font-family='"Liberation Sans", sans-serif' letter-spacing="-0.3" transform="translate(22,289.1) scale(1,1.12)">-30</text>
<text x="0" y="0" font-size="6" text-anchor="end" font-weight="bold" fill="#1a1a1a" stroke="#1a1a1a" stroke-width="0.22" font-family='"Liberation Sans", sans-serif' letter-spacing="-0.3" transform="translate(22,305.02) scale(1,1.12)">-35</text>
<text x="0" y="0" font-size="6.2" text-anchor="middle" font-weight="bold" fill="#1a1a1a" stroke="#1a1a1a" stroke-width="0.22" font-family='"Liberation Sans", sans-serif' transform="translate(137.6,320.07) scale(1,1.12)">Frequency [GHz]</text>
<text x="0" y="0" font-size="6" text-anchor="middle" font-weight="bold" fill="#1a1a1a" stroke="#1a1a1a" stroke-width="0.22" font-family='"Liberation Sans", sans-serif' transform="translate(10.36,246.9) rotate(-90) scale(1,1.12)">Reflection coefficient [dB]</text>
<path d="M24.3,220.6C25.93,222.13 27.65,223.52 29.2,225.2C30.83,226.97 32.38,228.96 33.8,231C35.25,233.09 36.47,235.4 37.8,237.6L41.8,251.8L47.3,270.9L50.7,287.3L52.4,296.8L54.8,284.5L58.2,264.1L59.6,257.3L63.4,245.6L66.3,238.1L71.5,229.5L76.1,220.9L80.7,211.7L82,210.3L84.1,209.9L85.9,220.3L87.6,234.1L91,238.1L94.5,233.5L95.4,233L96.29,232.49L97.18,231.97L98.07,231.44L98.95,230.9L99.84,230.36L100.73,229.82L101.63,229.28L102.53,228.75L103.43,228.23L104.34,227.72L105.26,227.23L106.19,226.76L107.13,226.31L108.08,225.89L109.04,225.49L110.02,225.13L111.01,224.81L112.02,224.52L113.03,224.27L114.06,224.07L115.08,223.92L116.11,223.82L117.13,223.78L118.15,223.8L119.16,223.88L120.16,224.03L121.15,224.25L122.12,224.54L123.07,224.91L124,225.36L124.9,225.9L126.6,240L126.9,260.3L127.3,240L129,224.4L130.02,224.46L131.03,224.52L132.05,224.58L133.07,224.64L134.09,224.71L135.11,224.77L136.13,224.84L137.15,224.91L138.17,224.99L139.18,225.07L140.2,225.15L141.22,225.23L142.24,225.32L143.26,225.4L144.28,225.5L145.3,225.59L146.32,225.69L147.34,225.8L148.36,225.91L149.38,226.02L150.39,226.14L151.41,226.26L152.43,226.38L153.44,226.51L154.46,226.65L155.47,226.79L156.48,226.93L157.5,227.08L158.51,227.24L159.52,227.4L160.52,227.56L161.53,227.74L162.54,227.92L163.54,228.1L164.55,228.29L165.55,228.49L166.55,228.69L167.55,228.9L168.55,229.12L169.54,229.34L170.54,229.58L171.53,229.81L172.52,230.06L173.51,230.31L174.5,230.57L175.48,230.84L176.46,231.12L177.45,231.4L178.42,231.7L179.4,232L186.8,236.3L193.7,240.5L201.8,250.6L208.4,263.8L222.7,254.1L236.9,236.3L251.4,229.9" fill="none" stroke="#2683cf" stroke-width="1.3" stroke-linejoin="round" stroke-linecap="round"/>
<rect x="280.3" y="192.8" width="232.6" height="23.4" fill="#fff" stroke="#9a9a9a" stroke-width="1.1"/>
<path d="M287.8,199.9H307.7" stroke="#5a9ad6" stroke-width="2.0"/>
<text x="0" y="0" font-size="6" text-anchor="start" font-weight="bold" fill="#1a1a1a" stroke="#1a1a1a" stroke-width="0.22" font-family='"Liberation Sans", sans-serif' transform="translate(313,202.32) scale(1,1.12)">Mode index = 1</text>
<path d="M363.3,199.9H383.6" stroke="#5cc28e" stroke-width="2.0"/>
<text x="0" y="0" font-size="6" text-anchor="start" font-weight="bold" fill="#1a1a1a" stroke="#1a1a1a" stroke-width="0.22" font-family='"Liberation Sans", sans-serif' transform="translate(388.5,202.32) scale(1,1.12)">Mode index = 2</text>
<path d="M439.3,199.9H459" stroke="#f65a62" stroke-width="2.0"/>
<text x="0" y="0" font-size="6" text-anchor="start" font-weight="bold" fill="#1a1a1a" stroke="#1a1a1a" stroke-width="0.22" font-family='"Liberation Sans", sans-serif' transform="translate(465.2,202.32) scale(1,1.12)">Mode index = 3</text>
<path d="M287.8,209.2H307.7" stroke="#27b2e8" stroke-width="1.4"/>
<text x="0" y="0" font-size="6" text-anchor="start" font-weight="bold" fill="#1a1a1a" stroke="#1a1a1a" stroke-width="0.22" font-family='"Liberation Sans", sans-serif' transform="translate(313,211.62) scale(1,1.12)">Mode index = 4</text>
<path d="M363.3,209.2H383.6" stroke="#f6bf22" stroke-width="1.4"/>
<text x="0" y="0" font-size="6" text-anchor="start" font-weight="bold" fill="#1a1a1a" stroke="#1a1a1a" stroke-width="0.22" font-family='"Liberation Sans", sans-serif' transform="translate(388.5,211.62) scale(1,1.12)">Mode index = 5</text>
<path d="M316.35,221.2V303.2M344.5,221.2V303.2M372.65,221.2V303.2M400.8,221.2V303.2M428.95,221.2V303.2M457.1,221.2V303.2M485.25,221.2V303.2M288.2,229.4H513.4M288.2,237.6H513.4M288.2,245.8H513.4M288.2,254H513.4M288.2,262.2H513.4M288.2,270.4H513.4M288.2,278.6H513.4M288.2,286.8H513.4M288.2,295H513.4" stroke="#c6c6c6" stroke-width="0.9" stroke-dasharray="1,1.35" fill="none"/>
<rect x="288.2" y="221.2" width="225.2" height="82" fill="none" stroke="#9a9a9a" stroke-width="1.1"/>
<clipPath id="cd"><rect x="287.2" y="220.2" width="227.2" height="84"/></clipPath>
<text x="0" y="0" font-size="6" text-anchor="middle" font-weight="bold" fill="#1a1a1a" stroke="#1a1a1a" stroke-width="0.22" font-family='"Liberation Sans", sans-serif' transform="translate(288.2,310.86) scale(1,1.12)">2.0</text>
<text x="0" y="0" font-size="6" text-anchor="middle" font-weight="bold" fill="#1a1a1a" stroke="#1a1a1a" stroke-width="0.22" font-family='"Liberation Sans", sans-serif' transform="translate(316.35,310.86) scale(1,1.12)">2.5</text>
<text x="0" y="0" font-size="6" text-anchor="middle" font-weight="bold" fill="#1a1a1a" stroke="#1a1a1a" stroke-width="0.22" font-family='"Liberation Sans", sans-serif' transform="translate(344.5,310.86) scale(1,1.12)">3.0</text>
<text x="0" y="0" font-size="6" text-anchor="middle" font-weight="bold" fill="#1a1a1a" stroke="#1a1a1a" stroke-width="0.22" font-family='"Liberation Sans", sans-serif' transform="translate(372.65,310.86) scale(1,1.12)">3.5</text>
<text x="0" y="0" font-size="6" text-anchor="middle" font-weight="bold" fill="#1a1a1a" stroke="#1a1a1a" stroke-width="0.22" font-family='"Liberation Sans", sans-serif' transform="translate(400.8,310.86) scale(1,1.12)">4.0</text>
<text x="0" y="0" font-size="6" text-anchor="middle" font-weight="bold" fill="#1a1a1a" stroke="#1a1a1a" stroke-width="0.22" font-family='"Liberation Sans", sans-serif' transform="translate(428.95,310.86) scale(1,1.12)">4.5</text>
<text x="0" y="0" font-size="6" text-anchor="middle" font-weight="bold" fill="#1a1a1a" stroke="#1a1a1a" stroke-width="0.22" font-family='"Liberation Sans", sans-serif' transform="translate(457.1,310.86) scale(1,1.12)">5.0</text>
<text x="0" y="0" font-size="6" text-anchor="middle" font-weight="bold" fill="#1a1a1a" stroke="#1a1a1a" stroke-width="0.22" font-family='"Liberation Sans", sans-serif' transform="translate(485.25,310.86) scale(1,1.12)">5.5</text>
<text x="0" y="0" font-size="6" text-anchor="middle" font-weight="bold" fill="#1a1a1a" stroke="#1a1a1a" stroke-width="0.22" font-family='"Liberation Sans", sans-serif' transform="translate(513.4,310.86) scale(1,1.12)">6.0</text>
<text x="0" y="0" font-size="6" text-anchor="end" font-weight="bold" fill="#1a1a1a" stroke="#1a1a1a" stroke-width="0.22" font-family='"Liberation Sans", sans-serif' letter-spacing="-0.5" transform="translate(286.7,223.62) scale(1,1.12)">1.0</text>
<text x="0" y="0" font-size="6" text-anchor="end" font-weight="bold" fill="#1a1a1a" stroke="#1a1a1a" stroke-width="0.22" font-family='"Liberation Sans", sans-serif' letter-spacing="-0.5" transform="translate(286.7,231.82) scale(1,1.12)">0.9</text>
<text x="0" y="0" font-size="6" text-anchor="end" font-weight="bold" fill="#1a1a1a" stroke="#1a1a1a" stroke-width="0.22" font-family='"Liberation Sans", sans-serif' letter-spacing="-0.5" transform="translate(286.7,240.02) scale(1,1.12)">0.8</text>
<text x="0" y="0" font-size="6" text-anchor="end" font-weight="bold" fill="#1a1a1a" stroke="#1a1a1a" stroke-width="0.22" font-family='"Liberation Sans", sans-serif' letter-spacing="-0.5" transform="translate(286.7,248.22) scale(1,1.12)">0.7</text>
<text x="0" y="0" font-size="6" text-anchor="end" font-weight="bold" fill="#1a1a1a" stroke="#1a1a1a" stroke-width="0.22" font-family='"Liberation Sans", sans-serif' letter-spacing="-0.5" transform="translate(286.7,256.42) scale(1,1.12)">0.6</text>
<text x="0" y="0" font-size="6" text-anchor="end" font-weight="bold" fill="#1a1a1a" stroke="#1a1a1a" stroke-width="0.22" font-family='"Liberation Sans", sans-serif' letter-spacing="-0.5" transform="translate(286.7,264.62) scale(1,1.12)">0.5</text>
<text x="0" y="0" font-size="6" text-anchor="end" font-weight="bold" fill="#1a1a1a" stroke="#1a1a1a" stroke-width="0.22" font-family='"Liberation Sans", sans-serif' letter-spacing="-0.5" transform="translate(286.7,272.82) scale(1,1.12)">0.4</text>
<text x="0" y="0" font-size="6" text-anchor="end" font-weight="bold" fill="#1a1a1a" stroke="#1a1a1a" stroke-width="0.22" font-family='"Liberation Sans", sans-serif' letter-spacing="-0.5" transform="translate(286.7,281.02) scale(1,1.12)">0.3</text>
<text x="0" y="0" font-size="6" text-anchor="end" font-weight="bold" fill="#1a1a1a" stroke="#1a1a1a" stroke-width="0.22" font-family='"Liberation Sans", sans-serif' letter-spacing="-0.5" transform="translate(286.7,289.22) scale(1,1.12)">0.2</text>
<text x="0" y="0" font-size="6" text-anchor="end" font-weight="bold" fill="#1a1a1a" stroke="#1a1a1a" stroke-width="0.22" font-family='"Liberation Sans", sans-serif' letter-spacing="-0.5" transform="translate(286.7,297.42) scale(1,1.12)">0.1</text>
<text x="0" y="0" font-size="6" text-anchor="end" font-weight="bold" fill="#1a1a1a" stroke="#1a1a1a" stroke-width="0.22" font-family='"Liberation Sans", sans-serif' letter-spacing="-0.5" transform="translate(286.7,305.62) scale(1,1.12)">0.0</text>
<text x="0" y="0" font-size="6.05" text-anchor="middle" font-weight="bold" fill="#1a1a1a" stroke="#1a1a1a" stroke-width="0.22" font-family='"Liberation Sans", sans-serif' transform="translate(400.8,320.56) scale(1,1.12)">Frequency [GHz]</text>
<text x="0" y="0" font-size="6.2" text-anchor="middle" font-weight="bold" fill="#1a1a1a" stroke="#1a1a1a" stroke-width="0.22" font-family='"Liberation Sans", sans-serif' transform="translate(277.07,262.2) rotate(-90) scale(1,1.12)">Modal significance</text>
<path d="M288.4,302.9L289.41,302.87L290.41,302.84L291.42,302.81L292.42,302.78L293.43,302.75L294.44,302.72L295.44,302.69L296.45,302.66L297.45,302.62L298.46,302.59L299.47,302.55L300.47,302.51L301.48,302.47L302.48,302.43L303.49,302.38L304.49,302.34L305.5,302.29L306.5,302.23L307.51,302.18L308.51,302.12L309.52,302.05L310.52,301.99L311.52,301.92L312.53,301.84L313.53,301.76L314.53,301.68L315.53,301.59L316.54,301.5L317.54,301.41L318.54,301.3L319.54,301.2L320.54,301.09L321.54,300.97L322.54,300.84L323.53,300.72L324.53,300.58L325.53,300.44L326.52,300.3L327.52,300.14L328.51,299.99L329.51,299.82L330.5,299.65L331.49,299.48L332.48,299.3L333.47,299.11L334.46,298.92L335.44,298.72L336.43,298.51L337.41,298.3L338.39,298.08L339.38,297.85L340.35,297.62L341.33,297.39L342.31,297.14L343.28,296.89L344.26,296.63L345.23,296.37L346.2,296.1L347.17,295.82L348.13,295.54L349.1,295.25L350.06,294.95L351.02,294.64L351.98,294.33L352.93,294.02L353.88,293.69L354.83,293.36L355.78,293.02L356.73,292.67L357.67,292.32L358.61,291.95L359.55,291.59L360.48,291.21L361.41,290.83L362.33,290.43L363.26,290.03L364.18,289.63L365.09,289.21L366,288.79L366.91,288.36L367.81,287.92L368.71,287.48L369.6,287.02L370.49,286.56L371.38,286.09L372.26,285.61L373.13,285.13L374,284.63L374.87,284.13L375.73,283.62L376.58,283.1L377.43,282.57L378.27,282.04L379.11,281.49L379.94,280.94L380.77,280.38L381.59,279.8L382.4,279.23L383.21,278.64L384.01,278.05L384.81,277.44L385.61,276.84L386.4,276.22L387.18,275.6L387.96,274.97L388.73,274.34L389.51,273.69L390.27,273.05L391.04,272.4L391.8,271.74L392.55,271.08L393.31,270.41L394.05,269.74L394.8,269.06L395.54,268.38L396.28,267.7L397.02,267.01L397.76,266.32L398.49,265.63L399.22,264.93L399.95,264.23L400.67,263.53L401.4,262.82L402.12,262.11L402.84,261.41L403.56,260.7L404.28,259.98L405,259.27L405.72,258.56L406.44,257.85L407.15,257.13L407.87,256.42L408.59,255.71L409.31,254.99L410.03,254.28L410.75,253.58L411.47,252.87L412.19,252.16L412.92,251.46L413.65,250.76L414.38,250.06L415.11,249.37L415.84,248.68L416.58,248L417.32,247.31L418.07,246.64L418.82,245.97L419.57,245.3L420.33,244.64L421.09,243.98L421.86,243.33L422.63,242.69L423.41,242.05L424.19,241.42L424.98,240.8L425.78,240.19L426.58,239.58L427.38,238.98L428.2,238.39L429.02,237.81L429.85,237.24L430.68,236.67L431.52,236.12L432.36,235.57L433.21,235.04L434.07,234.51L434.93,233.99L435.79,233.48L436.66,232.98L437.54,232.49L438.42,232.02L439.31,231.55L440.2,231.09L441.1,230.64L442,230.21L442.91,229.78L443.82,229.36L444.74,228.96L445.66,228.57L446.58,228.19L447.51,227.82L448.45,227.46L449.39,227.11L450.33,226.78L451.27,226.46L452.22,226.15L453.17,225.85L454.13,225.57L455.09,225.29L456.05,225.03L457.02,224.78L457.99,224.55L458.96,224.32L459.94,224.1L460.92,223.9L461.9,223.71L462.89,223.52L463.87,223.35L464.86,223.18L465.85,223.03L466.85,222.88L467.84,222.74L468.84,222.61L469.84,222.49L470.84,222.38L471.85,222.28L472.85,222.18L473.86,222.09L474.87,222L475.88,221.93L476.89,221.86L477.9,221.79L478.91,221.74L479.93,221.68L480.94,221.64L481.96,221.59L482.97,221.56L483.99,221.52L485.01,221.5L486.02,221.47L487.04,221.45L488.06,221.44L489.07,221.42L490.09,221.41L491.11,221.4L492.12,221.4L493.14,221.4L494.16,221.39L495.17,221.4L496.18,221.4L497.2,221.4L498.21,221.41L499.22,221.41L500.23,221.42L501.24,221.42L502.25,221.43L503.25,221.43L504.25,221.44L505.26,221.44L506.26,221.44L507.26,221.44L508.25,221.44L509.25,221.44L510.24,221.43L511.23,221.42L512.21,221.41L513.2,221.4" fill="none" stroke="#f6bf22" stroke-width="1.35" stroke-linejoin="round" stroke-linecap="round" clip-path="url(#cd)"/>
<path d="M288.4,300.4L289.4,300.31L290.41,300.22L291.41,300.13L292.42,300.04L293.42,299.95L294.43,299.86L295.43,299.77L296.44,299.69L297.44,299.6L298.45,299.51L299.45,299.43L300.46,299.34L301.47,299.26L302.47,299.17L303.48,299.09L304.48,299.01L305.49,298.93L306.5,298.85L307.5,298.76L308.51,298.69L309.52,298.61L310.52,298.53L311.53,298.45L312.54,298.37L313.54,298.3L314.55,298.23L315.56,298.15L316.56,298.08L317.57,298.01L318.58,297.94L319.59,297.87L320.59,297.8L321.6,297.73L322.61,297.66L323.62,297.6L324.62,297.54L325.63,297.47L326.64,297.41L327.65,297.35L328.66,297.29L329.66,297.23L330.67,297.18L331.68,297.12L332.69,297.07L333.7,297.01L334.7,296.96L335.71,296.91L336.72,296.86L337.73,296.81L338.74,296.77L339.75,296.72L340.75,296.68L341.76,296.64L342.77,296.6L343.78,296.56L344.79,296.52L345.8,296.49L346.8,296.45L347.81,296.42L348.82,296.39L349.83,296.36L350.84,296.33L351.85,296.31L352.85,296.28L353.86,296.26L354.87,296.24L355.88,296.22L356.89,296.2L357.9,296.19L358.91,296.17L359.91,296.16L360.92,296.15L361.93,296.15L362.94,296.14L363.95,296.14L364.96,296.13L365.96,296.13L366.97,296.14L367.98,296.14L368.99,296.15L370,296.16L371,296.17L372.01,296.18L373.02,296.19L374.03,296.21L375.04,296.23L376.04,296.25L377.05,296.28L378.06,296.3L379.07,296.33L380.07,296.36L381.08,296.39L382.09,296.43L383.1,296.47L384.1,296.51L385.11,296.55L386.12,296.59L387.12,296.64L388.13,296.69L389.14,296.74L390.15,296.8L391.15,296.85L392.16,296.91L393.17,296.97L394.17,297.04L395.18,297.11L396.18,297.18L397.19,297.25L398.2,297.32L399.2,297.4L400.21,297.48L401.21,297.57L402.22,297.65L403.23,297.74L404.23,297.83L405.24,297.93L406.24,298.03L407.25,298.13L408.25,298.23L409.26,298.34L410.26,298.45L411.27,298.56L412.27,298.67L413.27,298.79L414.28,298.91L415.28,299.04L416.29,299.16L417.29,299.29L418.29,299.43L419.3,299.56L420.3,299.7" fill="none" stroke="#ee2c36" stroke-width="1.35" stroke-linejoin="round" stroke-linecap="round" clip-path="url(#cd)"/>
<path d="M288.4,272.6L289.06,271.82L289.72,271.04L290.37,270.25L291.02,269.47L291.66,268.69L292.3,267.91L292.94,267.13L293.57,266.34L294.19,265.56L294.81,264.77L295.43,263.98L296.04,263.19L296.65,262.4L297.25,261.61L297.85,260.81L298.44,260.01L299.03,259.21L299.61,258.41L300.19,257.6L300.76,256.79L301.33,255.98L301.89,255.16L302.45,254.34L303,253.52L303.55,252.69L304.09,251.86L304.62,251.02L305.16,250.18L305.68,249.33L306.2,248.48L306.72,247.62L307.23,246.76L307.73,245.89L308.23,245.01L308.73,244.13L309.22,243.25L309.7,242.35L310.18,241.45L310.66,240.55L311.14,239.65L311.62,238.75L312.1,237.85L312.6,236.95L313.1,236.06L313.61,235.18L314.13,234.31L314.67,233.45L315.23,232.6L315.8,231.77L316.4,230.95L317.02,230.16L317.67,229.38L318.34,228.63L319.04,227.9L319.77,227.2L320.54,226.52L321.33,225.88L322.14,225.27L322.98,224.69L323.84,224.15L324.72,223.66L325.62,223.2L326.53,222.79L327.45,222.43L328.38,222.11L329.31,221.85L330.25,221.64L331.19,221.48L332.13,221.39L333.07,221.35L334.01,221.38L334.93,221.47L335.85,221.63L336.75,221.86L337.65,222.14L338.53,222.49L339.39,222.89L340.25,223.35L341.08,223.86L341.9,224.41L342.71,225L343.49,225.64L344.26,226.31L345.01,227.02L345.73,227.76L346.44,228.52L347.12,229.31L347.78,230.13L348.42,230.95L349.03,231.8L349.61,232.65L350.17,233.52L350.71,234.39L351.22,235.28L351.71,236.17L352.18,237.07L352.63,237.98L353.06,238.89L353.47,239.81L353.86,240.74L354.24,241.67L354.61,242.61L354.96,243.55L355.29,244.5L355.62,245.44L355.93,246.39L356.24,247.34L356.53,248.29L356.82,249.25L357.1,250.2L357.38,251.15L357.65,252.11L357.91,253.07L358.17,254.02L358.42,254.98L358.67,255.94L358.91,256.91L359.15,257.87L359.38,258.84L359.62,259.81L359.85,260.79L360.08,261.77L360.3,262.75L360.53,263.73L360.75,264.72L360.98,265.72L361.2,266.72L361.43,267.72L361.66,268.72L361.89,269.72L362.14,270.73L362.4,271.72L362.66,272.71L362.95,273.69L363.25,274.67L363.57,275.63L363.92,276.57L364.29,277.5L364.68,278.41L365.11,279.31L365.57,280.18L366.06,281.03L366.59,281.85L367.15,282.64L367.75,283.41L368.39,284.15L369.06,284.87L369.75,285.55L370.48,286.21L371.23,286.84L372.01,287.44L372.81,288.01L373.64,288.56L374.48,289.07L375.35,289.56L376.23,290.01L377.13,290.44L378.04,290.83L378.97,291.2L379.91,291.53L380.86,291.83L381.82,292.1L382.78,292.35L383.75,292.56L384.74,292.75L385.72,292.92L386.71,293.06L387.71,293.18L388.72,293.28L389.72,293.37L390.73,293.44L391.75,293.49L392.76,293.53L393.78,293.56L394.8,293.58L395.82,293.59L396.84,293.59L397.86,293.59L398.88,293.58L399.9,293.58L400.91,293.56L401.93,293.55L402.94,293.53L403.95,293.51L404.96,293.49L405.97,293.47L406.98,293.44L407.99,293.41L409,293.38L410,293.35L411.01,293.31L412.01,293.27L413.01,293.23L414.02,293.19L415.02,293.14L416.02,293.09L417.02,293.05L418.02,292.99L419.02,292.94L420.02,292.88L421.02,292.83L422.01,292.77L423.01,292.7L424.01,292.64L425.01,292.57L426,292.51L427,292.44L428,292.37L428.99,292.29L429.99,292.22L430.99,292.14L431.98,292.07L432.98,291.99L433.98,291.91L434.97,291.82L435.97,291.74L436.97,291.65L437.96,291.57L438.96,291.48L439.96,291.39L440.96,291.3L441.95,291.21L442.95,291.12L443.95,291.02L444.95,290.93L445.95,290.83L446.94,290.73L447.94,290.63L448.94,290.53L449.94,290.43L450.94,290.33L451.94,290.22L452.94,290.12L453.94,290.01L454.93,289.91L455.93,289.8L456.93,289.69L457.93,289.58L458.93,289.47L459.93,289.36L460.93,289.25L461.93,289.14L462.93,289.02L463.93,288.91L464.93,288.79L465.92,288.68L466.92,288.56L467.92,288.44L468.92,288.33L469.92,288.21L470.92,288.09L471.92,287.97L472.92,287.85L473.92,287.73L474.91,287.61L475.91,287.49L476.91,287.37L477.91,287.25L478.91,287.12L479.91,287L480.9,286.88L481.9,286.75L482.9,286.63L483.9,286.51L484.89,286.38L485.89,286.26L486.89,286.14L487.89,286.01L488.88,285.89L489.88,285.76L490.88,285.64L491.87,285.51L492.87,285.39L493.86,285.26L494.86,285.14L495.85,285.01L496.85,284.89L497.84,284.76L498.84,284.64L499.83,284.52L500.83,284.39L501.82,284.27L502.81,284.14L503.81,284.02L504.8,283.9" fill="none" stroke="#25b365" stroke-width="1.45" stroke-linejoin="round" stroke-linecap="round" clip-path="url(#cd)"/>
<path d="M288.4,302.4L289.4,302.34L290.41,302.27L291.41,302.21L292.41,302.15L293.42,302.09L294.42,302.03L295.42,301.97L296.43,301.91L297.43,301.85L298.43,301.79L299.43,301.73L300.44,301.67L301.44,301.62L302.44,301.56L303.44,301.5L304.45,301.43L305.45,301.37L306.45,301.31L307.45,301.25L308.45,301.18L309.46,301.12L310.46,301.05L311.46,300.98L312.46,300.91L313.46,300.84L314.46,300.77L315.46,300.69L316.47,300.61L317.47,300.53L318.47,300.45L319.47,300.36L320.47,300.28L321.47,300.19L322.47,300.09L323.47,300L324.48,299.9L325.48,299.79L326.48,299.69L327.48,299.58L328.48,299.46L329.48,299.35L330.48,299.22L331.48,299.1L332.47,298.97L333.47,298.83L334.46,298.69L335.45,298.55L336.43,298.4L337.42,298.24L338.39,298.06L339.36,297.86L340.32,297.61L341.27,297.3L342.19,296.92L343.1,296.45L343.98,295.91L344.83,295.31L345.63,294.66L346.38,293.98L347.08,293.26L347.74,292.51L348.35,291.73L348.93,290.92L349.46,290.09L349.95,289.24L350.41,288.36L350.84,287.46L351.23,286.55L351.6,285.62L351.94,284.68L352.27,283.72L352.57,282.76L352.85,281.79L353.12,280.81L353.37,279.83L353.62,278.84L353.85,277.86L354.08,276.88L354.3,275.89L354.51,274.91L354.71,273.92L354.91,272.94L355.1,271.95L355.29,270.96L355.47,269.98L355.64,268.99L355.8,268.01L355.96,267.02L356.12,266.03L356.27,265.04L356.41,264.05L356.55,263.06L356.69,262.07L356.82,261.08L356.95,260.09L357.07,259.1L357.19,258.11L357.3,257.11L357.42,256.12L357.53,255.12L357.63,254.13L357.73,253.13L357.84,252.13L357.94,251.13L358.03,250.13L358.13,249.13L358.22,248.12L358.31,247.12L358.4,246.11L358.49,245.11L358.58,244.1L358.67,243.09L358.76,242.08L358.85,241.07L358.94,240.05L359.03,239.04L359.12,238.02L359.22,237.01L359.31,236L359.41,234.99L359.52,233.98L359.63,232.98L359.75,231.99L359.87,231L360,230.01L360.14,229.04L360.29,228.07L360.45,227.12L360.62,226.17L360.8,225.24L360.99,224.31L361.19,223.4L361.43,222.55L361.8,222.13L362.38,222.41L363.05,223.21L363.73,224.31L364.36,225.43L364.94,226.41L365.47,227.28L365.98,228.09L366.5,228.88L367.04,229.67L367.59,230.48L368.17,231.29L368.76,232.1L369.37,232.91L369.99,233.72L370.62,234.52L371.26,235.31L371.91,236.09L372.57,236.85L373.23,237.6L373.91,238.34L374.6,239.07L375.3,239.78L376.02,240.47L376.74,241.16L377.49,241.82L378.24,242.48L379.02,243.11L379.8,243.74L380.6,244.35L381.42,244.94L382.24,245.52L383.07,246.09L383.91,246.65L384.76,247.19L385.62,247.72L386.48,248.24L387.35,248.75L388.22,249.24L389.11,249.71L390,250.14L390.92,250.55L391.84,250.91L392.79,251.24L393.74,251.56L394.68,251.89L395.61,252.25L396.52,252.66L397.42,253.12L398.3,253.6L399.17,254.11L400.03,254.64L400.89,255.17L401.76,255.69L402.63,256.2L403.51,256.69L404.4,257.16L405.29,257.61L406.2,258.05L407.11,258.46L408.02,258.87L408.95,259.25L409.88,259.62L410.82,259.98L411.76,260.32L412.7,260.65L413.65,260.97L414.61,261.27L415.57,261.57L416.53,261.85L417.5,262.13L418.47,262.4L419.44,262.66L420.41,262.92L421.38,263.17L422.36,263.41L423.34,263.65L424.31,263.89L425.29,264.12L426.27,264.34L427.26,264.56L428.24,264.77L429.22,264.98L430.2,265.19L431.19,265.39L432.18,265.58L433.16,265.77L434.15,265.96L435.14,266.14L436.13,266.32L437.12,266.49L438.11,266.66L439.1,266.83L440.09,266.99L441.08,267.15L442.07,267.3L443.07,267.45L444.06,267.59L445.05,267.74L446.05,267.87L447.04,268.01L448.04,268.14L449.03,268.27L450.03,268.39L451.02,268.51L452.02,268.63L453.02,268.74L454.02,268.85L455.01,268.96L456.01,269.06L457.01,269.16L458.01,269.26L459.01,269.36L460.01,269.45L461.01,269.54L462.01,269.62L463.01,269.71L464.01,269.79L465.01,269.86L466.01,269.94L467.02,270.01L468.02,270.08L469.02,270.15L470.02,270.22L471.02,270.28L472.03,270.34L473.03,270.4L474.03,270.46L475.04,270.51L476.04,270.56L477.04,270.62L478.05,270.66L479.05,270.71L480.06,270.76L481.06,270.8L482.07,270.84L483.07,270.88L484.07,270.92L485.08,270.96L486.08,270.99L487.09,271.03L488.09,271.06L489.1,271.09L490.1,271.12L491.11,271.15L492.11,271.18L493.12,271.2L494.12,271.23L495.13,271.25L496.13,271.28L497.14,271.3L498.14,271.32L499.15,271.34L500.15,271.37L501.16,271.39L502.16,271.41L503.16,271.42L504.17,271.44L505.17,271.46L506.18,271.48L507.18,271.5L508.18,271.51L509.19,271.53L510.19,271.55L511.19,271.57L512.2,271.58L513.2,271.6" fill="none" stroke="#27b2e8" stroke-width="1.35" stroke-linejoin="round" stroke-linecap="round" clip-path="url(#cd)"/>
<path d="M288.4,249.6L288.69,248.6L288.99,247.62L289.31,246.65L289.64,245.7L289.99,244.76L290.34,243.84L290.71,242.92L291.08,242.01L291.46,241.1L291.84,240.2L292.24,239.29L292.63,238.39L293.03,237.48L293.43,236.56L293.84,235.63L294.24,234.7L294.64,233.75L295.05,232.8L295.47,231.84L295.9,230.88L296.35,229.93L296.82,228.99L297.33,228.07L297.86,227.17L298.44,226.29L299.05,225.45L299.7,224.67L300.39,223.95L301.11,223.3L301.87,222.75L302.65,222.31L303.48,221.99L304.32,221.79L305.2,221.73L306.08,221.78L306.97,221.95L307.86,222.24L308.74,222.61L309.6,223.07L310.45,223.59L311.27,224.16L312.08,224.77L312.86,225.41L313.63,226.08L314.39,226.77L315.15,227.48L315.89,228.2L316.63,228.93L317.38,229.65L318.12,230.37L318.87,231.09L319.61,231.8L320.36,232.51L321.11,233.21L321.86,233.91L322.61,234.61L323.37,235.29L324.13,235.97L324.9,236.64L325.67,237.3L326.45,237.96L327.23,238.6L328.02,239.24L328.81,239.86L329.61,240.47L330.42,241.07L331.23,241.66L332.05,242.24L332.87,242.8L333.71,243.36L334.54,243.91L335.39,244.44L336.24,244.96L337.09,245.48L337.95,245.98L338.82,246.47L339.69,246.96L340.57,247.43L341.45,247.89L342.34,248.34L343.23,248.79L344.13,249.22L345.03,249.65L345.94,250.06L346.85,250.47L347.76,250.86L348.68,251.25L349.61,251.63L350.54,252L351.47,252.36L352.4,252.71L353.34,253.06L354.29,253.39L355.24,253.72L356.19,254.04L357.14,254.35L358.1,254.66L359.06,254.95L360.02,255.24L360.99,255.52L361.96,255.8L362.93,256.06L363.9,256.32L364.88,256.58L365.86,256.82L366.84,257.06L367.83,257.29L368.81,257.52L369.8,257.73L370.79,257.95L371.78,258.15L372.77,258.35L373.77,258.55L374.76,258.73L375.76,258.92L376.76,259.09L377.76,259.26L378.76,259.43L379.76,259.59L380.76,259.74L381.77,259.89L382.77,260.03L383.78,260.17L384.78,260.31L385.78,260.44L386.79,260.56L387.79,260.68L388.8,260.8L389.8,260.91L390.81,261.02L391.81,261.12L392.82,261.22L393.82,261.32L394.83,261.41L395.83,261.49L396.84,261.57L397.84,261.65L398.85,261.73L399.85,261.8L400.86,261.86L401.86,261.92L402.87,261.98L403.88,262.04L404.88,262.09L405.89,262.13L406.89,262.17L407.9,262.21L408.9,262.25L409.91,262.28L410.91,262.31L411.92,262.33L412.92,262.35L413.93,262.37L414.93,262.38L415.94,262.39L416.94,262.4L417.95,262.4L418.95,262.41L419.96,262.4L420.96,262.4L421.97,262.39L422.97,262.37L423.98,262.36L424.98,262.34L425.99,262.32L426.99,262.29L428,262.26L429,262.23L430.01,262.2L431.01,262.16L432.02,262.12L433.02,262.08L434.03,262.03L435.03,261.99L436.03,261.94L437.04,261.88L438.04,261.83L439.05,261.77L440.05,261.71L441.06,261.64L442.06,261.58L443.06,261.51L444.07,261.44L445.07,261.37L446.08,261.29L447.08,261.21L448.08,261.13L449.09,261.05L450.09,260.97L451.09,260.88L452.1,260.79L453.1,260.7L454.1,260.61L455.11,260.51L456.11,260.42L457.11,260.32L458.12,260.22L459.12,260.12L460.12,260.01L461.12,259.91L462.13,259.8L463.13,259.69L464.13,259.59L465.13,259.48L466.14,259.37L467.14,259.25L468.14,259.14L469.14,259.03L470.15,258.91L471.15,258.79L472.15,258.68L473.15,258.56L474.15,258.44L475.16,258.32L476.16,258.2L477.16,258.08L478.16,257.96L479.16,257.84L480.16,257.72L481.17,257.6L482.17,257.48L483.17,257.36L484.17,257.24L485.17,257.11L486.17,256.99L487.17,256.87L488.17,256.75L489.18,256.63L490.18,256.51L491.18,256.39L492.18,256.27L493.18,256.15L494.18,256.03L495.18,255.92L496.18,255.8L497.19,255.69L498.19,255.57L499.19,255.46L500.19,255.34L501.19,255.23L502.19,255.12L503.19,255.01L504.19,254.9L505.19,254.8L506.19,254.69L507.19,254.59L508.2,254.49L509.2,254.39L510.2,254.29L511.2,254.19L512.2,254.09L513.2,254" fill="none" stroke="#1f77c5" stroke-width="1.35" stroke-linejoin="round" stroke-linecap="round" clip-path="url(#cd)"/>
<text x="263.2" y="356.5" font-size="11" text-anchor="middle" font-weight="normal" fill="#1a1a1a" font-family='"Liberation Serif", serif' stroke="#1a1a1a" stroke-width="0.18">(<tspan font-weight="bold">c</tspan>)</text>
<path d="M52.16,383.6V492.2M79.83,383.6V492.2M107.49,383.6V492.2M135.15,383.6V492.2M162.81,383.6V492.2M190.48,383.6V492.2M218.14,383.6V492.2M24.5,399.11H245.8M24.5,414.63H245.8M24.5,430.14H245.8M24.5,445.66H245.8M24.5,461.17H245.8M24.5,476.69H245.8" stroke="#c6c6c6" stroke-width="0.9" stroke-dasharray="1,1.35" fill="none"/>
<rect x="24.5" y="383.6" width="221.3" height="108.6" fill="none" stroke="#9a9a9a" stroke-width="1.1"/>
<clipPath id="ce"><rect x="23.5" y="382.6" width="223.3" height="110.6"/></clipPath>
<text x="0" y="0" font-size="6" text-anchor="middle" font-weight="bold" fill="#1a1a1a" stroke="#1a1a1a" stroke-width="0.22" font-family='"Liberation Sans", sans-serif' transform="translate(24.5,499.66) scale(1,1.12)">2.0</text>
<text x="0" y="0" font-size="6" text-anchor="middle" font-weight="bold" fill="#1a1a1a" stroke="#1a1a1a" stroke-width="0.22" font-family='"Liberation Sans", sans-serif' transform="translate(52.16,499.66) scale(1,1.12)">2.5</text>
<text x="0" y="0" font-size="6" text-anchor="middle" font-weight="bold" fill="#1a1a1a" stroke="#1a1a1a" stroke-width="0.22" font-family='"Liberation Sans", sans-serif' transform="translate(79.83,499.66) scale(1,1.12)">3.0</text>
<text x="0" y="0" font-size="6" text-anchor="middle" font-weight="bold" fill="#1a1a1a" stroke="#1a1a1a" stroke-width="0.22" font-family='"Liberation Sans", sans-serif' transform="translate(107.49,499.66) scale(1,1.12)">3.5</text>
<text x="0" y="0" font-size="6" text-anchor="middle" font-weight="bold" fill="#1a1a1a" stroke="#1a1a1a" stroke-width="0.22" font-family='"Liberation Sans", sans-serif' transform="translate(135.15,499.66) scale(1,1.12)">4.0</text>
<text x="0" y="0" font-size="6" text-anchor="middle" font-weight="bold" fill="#1a1a1a" stroke="#1a1a1a" stroke-width="0.22" font-family='"Liberation Sans", sans-serif' transform="translate(162.81,499.66) scale(1,1.12)">4.5</text>
<text x="0" y="0" font-size="6" text-anchor="middle" font-weight="bold" fill="#1a1a1a" stroke="#1a1a1a" stroke-width="0.22" font-family='"Liberation Sans", sans-serif' transform="translate(190.48,499.66) scale(1,1.12)">5.0</text>
<text x="0" y="0" font-size="6" text-anchor="middle" font-weight="bold" fill="#1a1a1a" stroke="#1a1a1a" stroke-width="0.22" font-family='"Liberation Sans", sans-serif' transform="translate(218.14,499.66) scale(1,1.12)">5.5</text>
<text x="0" y="0" font-size="6" text-anchor="middle" font-weight="bold" fill="#1a1a1a" stroke="#1a1a1a" stroke-width="0.22" font-family='"Liberation Sans", sans-serif' transform="translate(245.8,499.66) scale(1,1.12)">6.0</text>
<text x="0" y="0" font-size="6" text-anchor="end" font-weight="bold" fill="#1a1a1a" stroke="#1a1a1a" stroke-width="0.22" font-family='"Liberation Sans", sans-serif' letter-spacing="-0.3" transform="translate(22.7,386.02) scale(1,1.12)">0</text>
<text x="0" y="0" font-size="6" text-anchor="end" font-weight="bold" fill="#1a1a1a" stroke="#1a1a1a" stroke-width="0.22" font-family='"Liberation Sans", sans-serif' letter-spacing="-0.3" transform="translate(22.7,401.53) scale(1,1.12)">-5</text>
<text x="0" y="0" font-size="6" text-anchor="end" font-weight="bold" fill="#1a1a1a" stroke="#1a1a1a" stroke-width="0.22" font-family='"Liberation Sans", sans-serif' letter-spacing="-0.3" transform="translate(22.7,417.05) scale(1,1.12)">-10</text>
<text x="0" y="0" font-size="6" text-anchor="end" font-weight="bold" fill="#1a1a1a" stroke="#1a1a1a" stroke-width="0.22" font-family='"Liberation Sans", sans-serif' letter-spacing="-0.3" transform="translate(22.7,432.56) scale(1,1.12)">-15</text>
<text x="0" y="0" font-size="6" text-anchor="end" font-weight="bold" fill="#1a1a1a" stroke="#1a1a1a" stroke-width="0.22" font-family='"Liberation Sans", sans-serif' letter-spacing="-0.3" transform="translate(22.7,448.07) scale(1,1.12)">-20</text>
<text x="0" y="0" font-size="6" text-anchor="end" font-weight="bold" fill="#1a1a1a" stroke="#1a1a1a" stroke-width="0.22" font-family='"Liberation Sans", sans-serif' letter-spacing="-0.3" transform="translate(22.7,463.59) scale(1,1.12)">-25</text>
<text x="0" y="0" font-size="6" text-anchor="end" font-weight="bold" fill="#1a1a1a" stroke="#1a1a1a" stroke-width="0.22" font-family='"Liberation Sans", sans-serif' letter-spacing="-0.3" transform="translate(22.7,479.1) scale(1,1.12)">-30</text>
<text x="0" y="0" font-size="6" text-anchor="end" font-weight="bold" fill="#1a1a1a" stroke="#1a1a1a" stroke-width="0.22" font-family='"Liberation Sans", sans-serif' letter-spacing="-0.3" transform="translate(22.7,494.62) scale(1,1.12)">-35</text>
<text x="0" y="0" font-size="6.05" text-anchor="middle" font-weight="bold" fill="#1a1a1a" stroke="#1a1a1a" stroke-width="0.22" font-family='"Liberation Sans", sans-serif' transform="translate(135.15,509.66) scale(1,1.12)">Frequency [GHz]</text>
<text x="0" y="0" font-size="6" text-anchor="middle" font-weight="bold" fill="#1a1a1a" stroke="#1a1a1a" stroke-width="0.22" font-family='"Liberation Sans", sans-serif' transform="translate(11.06,437.9) rotate(-90) scale(1,1.12)">Reflection coefficient [dB]</text>
<path d="M24.5,415.5L25.38,416.06L26.24,416.63L27.08,417.23L27.91,417.84L28.71,418.47L29.5,419.11L30.28,419.77L31.03,420.45L31.77,421.15L32.49,421.86L33.2,422.58L33.89,423.32L34.57,424.07L35.22,424.84L35.87,425.62L36.49,426.41L37.11,427.21L37.71,428.03L38.29,428.85L38.86,429.69L39.41,430.54L39.95,431.4L40.48,432.27L40.99,433.15L41.49,434.03L41.97,434.93L42.45,435.83L42.9,436.74L43.35,437.66L43.78,438.59L44.21,439.52L44.62,440.46L45.01,441.4L45.4,442.35L45.77,443.3L46.13,444.26L46.48,445.22L46.82,446.18L47.15,447.15L47.47,448.12L47.78,449.09L48.08,450.06L48.37,451.04L48.65,452.02L48.92,453L49.18,453.98L49.44,454.96L49.69,455.94L49.94,456.92L50.18,457.91L50.41,458.89L50.65,459.88L50.88,460.87L51.11,461.86L51.34,462.85L51.57,463.84L51.81,464.83L52.04,465.82L52.27,466.81L52.51,467.8L52.75,468.79L53,469.78L53.25,470.78L53.5,471.77L53.76,472.76L54.03,473.75L54.31,474.74L54.59,475.72L54.88,476.7L55.17,477.68L55.48,478.66L55.79,479.63L56.12,480.58L56.51,481.46L57.01,482.2L57.67,482.72L58.51,483L59.49,483.14L60.48,483.29L61.38,483.63L62.09,484.31L62.5,485.5L62.65,484.49L62.79,483.47L62.92,482.46L63.05,481.44L63.17,480.43L63.28,479.41L63.39,478.39L63.49,477.38L63.59,476.36L63.68,475.34L63.77,474.32L63.85,473.31L63.92,472.29L64,471.27L64.06,470.25L64.12,469.23L64.18,468.21L64.24,467.18L64.28,466.16L64.33,465.14L64.37,464.12L64.41,463.1L64.45,462.07L64.48,461.05L64.51,460.03L64.53,459L64.56,457.98L64.58,456.95L64.6,455.93L64.61,454.9L64.63,453.87L64.64,452.85L64.65,451.82L64.66,450.79L64.67,449.77L64.68,448.74L64.69,447.71L64.7,446.68L64.72,445.66L64.73,444.63L64.75,443.6L64.76,442.58L64.79,441.55L64.81,440.53L64.84,439.5L64.87,438.48L64.91,437.46L64.95,436.43L65,435.41L65.06,434.39L65.13,433.38L65.22,432.37L65.32,431.36L65.44,430.35L65.58,429.35L65.74,428.36L65.93,427.37L66.15,426.39L66.4,425.42L66.68,424.46L67,423.5L67.44,424.69L68.02,425.62L68.73,426.3L69.54,426.75L70.42,426.99L71.36,427.07L72.33,427L73.32,426.83L74.3,426.59L75.28,426.29L76.25,425.94L77.22,425.55L78.18,425.14L79.15,424.72L80.11,424.29L81.07,423.87L82.04,423.46L83.01,423.07L83.98,422.71L84.96,422.36L85.94,422.04L86.93,421.74L87.91,421.45L88.9,421.19L89.9,420.95L90.9,420.74L91.9,420.55L92.91,420.38L93.92,420.23L94.94,420.11L95.96,420.01L96.98,419.93L98.01,419.88L99.04,419.86L100.07,419.85L101.11,419.87L102.14,419.92L103.17,419.99L104.21,420.08L105.24,420.2L106.26,420.34L107.29,420.5L108.31,420.69L109.33,420.9L110.34,421.13L111.34,421.39L112.34,421.67L113.33,421.97L114.31,422.3L115.28,422.64L116.24,423.02L117.19,423.41L118.14,423.83L119.06,424.27L119.98,424.73L120.88,425.21L121.77,425.72L122.64,426.25L123.5,426.8L124.7,432L124.9,476.4L125.2,432L126.3,427.6L127.23,427.33L128.19,427.14L129.17,427.02L130.17,426.95L131.18,426.92L132.2,426.92L133.23,426.93L134.25,426.93L135.28,426.92L136.29,426.87L137.29,426.77L138.28,426.63L139.25,426.44L140.22,426.22L141.18,425.96L142.13,425.67L143.08,425.35L144.02,425.01L144.97,424.65L145.91,424.27L146.85,423.88L147.79,423.47L148.73,423.06L149.67,422.64L150.61,422.21L151.56,421.79L152.5,421.37L153.45,420.96L154.4,420.55L155.35,420.16L156.31,419.78L157.27,419.42L158.23,419.08L159.19,418.76L160.17,418.47L161.14,418.21L162.12,417.98L163.11,417.79L164.1,417.62L165.1,417.49L166.09,417.39L167.09,417.32L168.09,417.28L169.09,417.28L170.1,417.3L171.1,417.35L172.1,417.43L173.1,417.54L174.09,417.68L175.08,417.85L176.07,418.04L177.06,418.27L178.03,418.51L179.01,418.79L179.97,419.09L180.93,419.42L181.88,419.77L182.82,420.14L183.75,420.54L184.67,420.97L185.58,421.42L186.48,421.89L187.37,422.38L188.24,422.9L189.1,423.44L189.94,424L190.77,424.58L191.59,425.19L192.39,425.81L193.17,426.45L193.93,427.11L194.68,427.8L195.4,428.49L196.12,429.21L196.81,429.94L197.49,430.69L198.16,431.45L198.82,432.22L199.47,433.01L200.1,433.81L200.73,434.61L201.34,435.43L201.95,436.25L202.55,437.08L203.15,437.91L203.74,438.75L204.33,439.6L204.91,440.44L205.49,441.29L206.07,442.14L206.66,442.97L207.28,443.79L207.92,444.57L208.6,445.32L209.33,446.03L210.11,446.66L210.94,447.18L211.79,447.52L212.66,447.63L213.52,447.5L214.37,447.15L215.19,446.65L215.95,446.03L216.66,445.32L217.32,444.56L217.97,443.77L218.6,442.96L219.24,442.15L219.89,441.35L220.54,440.54L221.19,439.75L221.85,438.95L222.52,438.17L223.2,437.39L223.89,436.62L224.58,435.86L225.28,435.11L225.99,434.37L226.71,433.65L227.44,432.94L228.18,432.24L228.94,431.56L229.7,430.9L230.47,430.26L231.26,429.63L232.06,429.03L232.87,428.45L233.69,427.89L234.53,427.35L235.38,426.83L236.25,426.35L237.13,425.89L238.03,425.45L238.94,425.05L239.87,424.67L240.81,424.33L241.77,424.01L242.75,423.73L243.75,423.49L244.77,423.28L245.8,423.1" fill="none" stroke="#2683cf" stroke-width="1.3" stroke-linejoin="round" stroke-linecap="round"/>
<rect x="275.3" y="379.5" width="236.5" height="24" fill="#fff" stroke="#9a9a9a" stroke-width="1.1"/>
<path d="M282.8,386.9H302.7" stroke="#5a9ad6" stroke-width="2.0"/>
<text x="0" y="0" font-size="6.08" text-anchor="start" font-weight="bold" fill="#1a1a1a" stroke="#1a1a1a" stroke-width="0.22" font-family='"Liberation Sans", sans-serif' transform="translate(308.5,389.35) scale(1,1.12)">Mode index = 1</text>
<path d="M359.9,386.9H379.3" stroke="#5cc28e" stroke-width="2.0"/>
<text x="0" y="0" font-size="6.08" text-anchor="start" font-weight="bold" fill="#1a1a1a" stroke="#1a1a1a" stroke-width="0.22" font-family='"Liberation Sans", sans-serif' transform="translate(385.2,389.35) scale(1,1.12)">Mode index = 2</text>
<path d="M436.3,386.9H456.4" stroke="#f65a62" stroke-width="2.0"/>
<text x="0" y="0" font-size="6.08" text-anchor="start" font-weight="bold" fill="#1a1a1a" stroke="#1a1a1a" stroke-width="0.22" font-family='"Liberation Sans", sans-serif' transform="translate(462.3,389.35) scale(1,1.12)">Mode index = 3</text>
<path d="M282.8,396.6H302.7" stroke="#27b2e8" stroke-width="1.4"/>
<text x="0" y="0" font-size="6.08" text-anchor="start" font-weight="bold" fill="#1a1a1a" stroke="#1a1a1a" stroke-width="0.22" font-family='"Liberation Sans", sans-serif' transform="translate(308.5,399.05) scale(1,1.12)">Mode index = 4</text>
<path d="M359.9,396.6H379.3" stroke="#f6bf22" stroke-width="1.4"/>
<text x="0" y="0" font-size="6.08" text-anchor="start" font-weight="bold" fill="#1a1a1a" stroke="#1a1a1a" stroke-width="0.22" font-family='"Liberation Sans", sans-serif' transform="translate(385.2,399.05) scale(1,1.12)">Mode index = 5</text>
<path d="M313.86,408.7V491.5M342.12,408.7V491.5M370.39,408.7V491.5M398.65,408.7V491.5M426.91,408.7V491.5M455.18,408.7V491.5M483.44,408.7V491.5M285.6,416.98H511.7M285.6,425.26H511.7M285.6,433.54H511.7M285.6,441.82H511.7M285.6,450.1H511.7M285.6,458.38H511.7M285.6,466.66H511.7M285.6,474.94H511.7M285.6,483.22H511.7" stroke="#c6c6c6" stroke-width="0.9" stroke-dasharray="1,1.35" fill="none"/>
<rect x="285.6" y="408.7" width="226.1" height="82.8" fill="none" stroke="#9a9a9a" stroke-width="1.1"/>
<clipPath id="cf"><rect x="284.6" y="407.7" width="228.1" height="84.8"/></clipPath>
<text x="0" y="0" font-size="6" text-anchor="middle" font-weight="bold" fill="#1a1a1a" stroke="#1a1a1a" stroke-width="0.22" font-family='"Liberation Sans", sans-serif' transform="translate(285.6,499.36) scale(1,1.12)">2.0</text>
<text x="0" y="0" font-size="6" text-anchor="middle" font-weight="bold" fill="#1a1a1a" stroke="#1a1a1a" stroke-width="0.22" font-family='"Liberation Sans", sans-serif' transform="translate(313.86,499.36) scale(1,1.12)">2.5</text>
<text x="0" y="0" font-size="6" text-anchor="middle" font-weight="bold" fill="#1a1a1a" stroke="#1a1a1a" stroke-width="0.22" font-family='"Liberation Sans", sans-serif' transform="translate(342.12,499.36) scale(1,1.12)">3.0</text>
<text x="0" y="0" font-size="6" text-anchor="middle" font-weight="bold" fill="#1a1a1a" stroke="#1a1a1a" stroke-width="0.22" font-family='"Liberation Sans", sans-serif' transform="translate(370.39,499.36) scale(1,1.12)">3.5</text>
<text x="0" y="0" font-size="6" text-anchor="middle" font-weight="bold" fill="#1a1a1a" stroke="#1a1a1a" stroke-width="0.22" font-family='"Liberation Sans", sans-serif' transform="translate(398.65,499.36) scale(1,1.12)">4.0</text>
<text x="0" y="0" font-size="6" text-anchor="middle" font-weight="bold" fill="#1a1a1a" stroke="#1a1a1a" stroke-width="0.22" font-family='"Liberation Sans", sans-serif' transform="translate(426.91,499.36) scale(1,1.12)">4.5</text>
<text x="0" y="0" font-size="6" text-anchor="middle" font-weight="bold" fill="#1a1a1a" stroke="#1a1a1a" stroke-width="0.22" font-family='"Liberation Sans", sans-serif' transform="translate(455.18,499.36) scale(1,1.12)">5.0</text>
<text x="0" y="0" font-size="6" text-anchor="middle" font-weight="bold" fill="#1a1a1a" stroke="#1a1a1a" stroke-width="0.22" font-family='"Liberation Sans", sans-serif' transform="translate(483.44,499.36) scale(1,1.12)">5.5</text>
<text x="0" y="0" font-size="6" text-anchor="middle" font-weight="bold" fill="#1a1a1a" stroke="#1a1a1a" stroke-width="0.22" font-family='"Liberation Sans", sans-serif' transform="translate(511.7,499.36) scale(1,1.12)">6.0</text>
<text x="0" y="0" font-size="6" text-anchor="end" font-weight="bold" fill="#1a1a1a" stroke="#1a1a1a" stroke-width="0.22" font-family='"Liberation Sans", sans-serif' letter-spacing="-0.2" transform="translate(284,411.12) scale(1,1.12)">1.0</text>
<text x="0" y="0" font-size="6" text-anchor="end" font-weight="bold" fill="#1a1a1a" stroke="#1a1a1a" stroke-width="0.22" font-family='"Liberation Sans", sans-serif' letter-spacing="-0.2" transform="translate(284,419.4) scale(1,1.12)">0.9</text>
<text x="0" y="0" font-size="6" text-anchor="end" font-weight="bold" fill="#1a1a1a" stroke="#1a1a1a" stroke-width="0.22" font-family='"Liberation Sans", sans-serif' letter-spacing="-0.2" transform="translate(284,427.68) scale(1,1.12)">0.8</text>
<text x="0" y="0" font-size="6" text-anchor="end" font-weight="bold" fill="#1a1a1a" stroke="#1a1a1a" stroke-width="0.22" font-family='"Liberation Sans", sans-serif' letter-spacing="-0.2" transform="translate(284,435.96) scale(1,1.12)">0.7</text>
<text x="0" y="0" font-size="6" text-anchor="end" font-weight="bold" fill="#1a1a1a" stroke="#1a1a1a" stroke-width="0.22" font-family='"Liberation Sans", sans-serif' letter-spacing="-0.2" transform="translate(284,444.24) scale(1,1.12)">0.6</text>
<text x="0" y="0" font-size="6" text-anchor="end" font-weight="bold" fill="#1a1a1a" stroke="#1a1a1a" stroke-width="0.22" font-family='"Liberation Sans", sans-serif' letter-spacing="-0.2" transform="translate(284,452.52) scale(1,1.12)">0.5</text>
<text x="0" y="0" font-size="6" text-anchor="end" font-weight="bold" fill="#1a1a1a" stroke="#1a1a1a" stroke-width="0.22" font-family='"Liberation Sans", sans-serif' letter-spacing="-0.2" transform="translate(284,460.8) scale(1,1.12)">0.4</text>
<text x="0" y="0" font-size="6" text-anchor="end" font-weight="bold" fill="#1a1a1a" stroke="#1a1a1a" stroke-width="0.22" font-family='"Liberation Sans", sans-serif' letter-spacing="-0.2" transform="translate(284,469.08) scale(1,1.12)">0.3</text>
<text x="0" y="0" font-size="6" text-anchor="end" font-weight="bold" fill="#1a1a1a" stroke="#1a1a1a" stroke-width="0.22" font-family='"Liberation Sans", sans-serif' letter-spacing="-0.2" transform="translate(284,477.36) scale(1,1.12)">0.2</text>
<text x="0" y="0" font-size="6" text-anchor="end" font-weight="bold" fill="#1a1a1a" stroke="#1a1a1a" stroke-width="0.22" font-family='"Liberation Sans", sans-serif' letter-spacing="-0.2" transform="translate(284,485.64) scale(1,1.12)">0.1</text>
<text x="0" y="0" font-size="6" text-anchor="end" font-weight="bold" fill="#1a1a1a" stroke="#1a1a1a" stroke-width="0.22" font-family='"Liberation Sans", sans-serif' letter-spacing="-0.2" transform="translate(284,493.92) scale(1,1.12)">0.0</text>
<text x="0" y="0" font-size="6.1" text-anchor="middle" font-weight="bold" fill="#1a1a1a" stroke="#1a1a1a" stroke-width="0.22" font-family='"Liberation Sans", sans-serif' transform="translate(398.65,509.66) scale(1,1.12)">Frequency [GHz]</text>
<text x="0" y="0" font-size="6.2" text-anchor="middle" font-weight="bold" fill="#1a1a1a" stroke="#1a1a1a" stroke-width="0.22" font-family='"Liberation Sans", sans-serif' transform="translate(272.57,450.1) rotate(-90) scale(1,1.12)">Modal significance</text>
<path d="M285.8,491.1L286.77,491.02L287.74,490.95L288.72,490.88L289.7,490.81L290.68,490.74L291.67,490.68L292.65,490.62L293.64,490.56L294.64,490.5L295.63,490.45L296.63,490.39L297.63,490.34L298.63,490.29L299.64,490.24L300.64,490.19L301.65,490.14L302.66,490.09L303.67,490.03L304.69,489.98L305.7,489.93L306.71,489.88L307.73,489.83L308.75,489.77L309.76,489.71L310.78,489.65L311.8,489.59L312.82,489.53L313.84,489.46L314.86,489.39L315.88,489.32L316.9,489.24L317.91,489.16L318.93,489.08L319.95,488.99L320.97,488.9L321.98,488.81L323,488.7L324.01,488.6L325.03,488.49L326.04,488.37L327.05,488.25L328.06,488.12L329.06,487.98L330.07,487.84L331.07,487.69L332.07,487.54L333.07,487.37L334.07,487.2L335.06,487.03L336.05,486.84L337.04,486.65L338.03,486.44L339.01,486.23L339.99,486.01L340.97,485.78L341.94,485.55L342.91,485.3L343.88,485.04L344.84,484.77L345.8,484.49L346.75,484.2L347.7,483.9L348.65,483.59L349.59,483.27L350.53,482.94L351.46,482.59L352.39,482.24L353.31,481.87L354.23,481.49L355.14,481.11L356.05,480.71L356.96,480.3L357.86,479.88L358.75,479.45L359.64,479.01L360.52,478.56L361.4,478.09L362.27,477.62L363.14,477.14L364,476.65L364.86,476.14L365.71,475.63L366.55,475.11L367.39,474.58L368.22,474.03L369.04,473.48L369.86,472.92L370.67,472.35L371.48,471.76L372.28,471.17L373.07,470.57L373.86,469.96L374.64,469.34L375.41,468.71L376.18,468.07L376.94,467.43L377.69,466.77L378.44,466.1L379.18,465.43L379.91,464.75L380.64,464.06L381.36,463.37L382.08,462.66L382.79,461.96L383.5,461.24L384.21,460.52L384.91,459.8L385.61,459.07L386.3,458.33L387,457.6L387.69,456.85L388.37,456.11L389.06,455.36L389.74,454.61L390.42,453.86L391.1,453.1L391.78,452.35L392.46,451.59L393.14,450.83L393.82,450.08L394.5,449.32L395.18,448.56L395.86,447.8L396.54,447.05L397.22,446.29L397.91,445.54L398.6,444.79L399.28,444.04L399.97,443.3L400.67,442.56L401.36,441.82L402.06,441.08L402.76,440.35L403.47,439.62L404.17,438.9L404.89,438.18L405.6,437.47L406.32,436.76L407.04,436.06L407.77,435.36L408.5,434.67L409.23,433.99L409.97,433.31L410.72,432.64L411.47,431.98L412.22,431.32L412.98,430.68L413.75,430.04L414.52,429.41L415.3,428.78L416.08,428.17L416.87,427.57L417.67,426.97L418.47,426.39L419.28,425.81L420.09,425.25L420.92,424.7L421.75,424.15L422.59,423.62L423.43,423.1L424.28,422.59L425.14,422.1L426,421.61L426.88,421.13L427.75,420.67L428.64,420.21L429.53,419.77L430.42,419.33L431.32,418.91L432.23,418.5L433.14,418.1L434.05,417.7L434.98,417.32L435.9,416.95L436.83,416.59L437.77,416.24L438.71,415.9L439.65,415.57L440.6,415.25L441.55,414.94L442.51,414.64L443.46,414.35L444.43,414.07L445.39,413.79L446.36,413.53L447.33,413.28L448.31,413.04L449.28,412.81L450.26,412.59L451.24,412.37L452.23,412.17L453.21,411.97L454.2,411.79L455.19,411.61L456.18,411.44L457.18,411.27L458.17,411.12L459.17,410.97L460.17,410.84L461.17,410.7L462.17,410.58L463.18,410.46L464.18,410.35L465.19,410.25L466.2,410.15L467.21,410.05L468.22,409.97L469.23,409.89L470.24,409.81L471.25,409.74L472.26,409.68L473.28,409.62L474.29,409.56L475.31,409.51L476.32,409.46L477.34,409.42L478.35,409.38L479.37,409.34L480.39,409.31L481.4,409.28L482.42,409.26L483.43,409.23L484.45,409.21L485.46,409.19L486.48,409.18L487.49,409.16L488.51,409.15L489.52,409.14L490.53,409.13L491.55,409.12L492.56,409.12L493.57,409.11L494.58,409.1L495.58,409.1L496.59,409.09L497.6,409.09L498.6,409.08L499.6,409.08L500.6,409.07L501.6,409.06L502.6,409.05L503.6,409.04L504.59,409.03L505.59,409.02L506.58,409.01L507.57,408.99L508.55,408.97L509.54,408.95L510.52,408.93L511.5,408.9" fill="none" stroke="#f6bf22" stroke-width="1.35" stroke-linejoin="round" stroke-linecap="round" clip-path="url(#cf)"/>
<path d="M285.8,487.9L286.81,487.81L287.81,487.72L288.82,487.62L289.83,487.53L290.84,487.44L291.85,487.35L292.86,487.27L293.87,487.18L294.88,487.09L295.89,487.01L296.9,486.92L297.91,486.84L298.92,486.76L299.93,486.68L300.94,486.6L301.95,486.52L302.96,486.45L303.97,486.37L304.98,486.3L305.99,486.23L307,486.17L308.01,486.1L309.03,486.04L310.04,485.98L311.05,485.92L312.06,485.86L313.07,485.81L314.09,485.75L315.1,485.71L316.11,485.66L317.12,485.62L318.13,485.58L319.14,485.54L320.16,485.5L321.17,485.47L322.18,485.44L323.19,485.42L324.2,485.4L325.22,485.38L326.23,485.36L327.24,485.35L328.25,485.34L329.26,485.34L330.27,485.34L331.28,485.34L332.29,485.35L333.31,485.36L334.32,485.38L335.33,485.4L336.34,485.42L337.35,485.45L338.36,485.48L339.37,485.52L340.38,485.56L341.38,485.61L342.39,485.66L343.4,485.71L344.41,485.77L345.42,485.84L346.43,485.91L347.43,485.99L348.44,486.07L349.45,486.15L350.45,486.24L351.46,486.34L352.47,486.44L353.47,486.55L354.48,486.66L355.48,486.78L356.49,486.91L357.49,487.04L358.49,487.17L359.5,487.32L360.5,487.47L361.5,487.62L362.5,487.78L363.5,487.95L364.51,488.12L365.51,488.3L366.51,488.49L367.5,488.68L368.5,488.88L369.5,489.09L370.5,489.3" fill="none" stroke="#ee2c36" stroke-width="1.35" stroke-linejoin="round" stroke-linecap="round" clip-path="url(#cf)"/>
<path d="M285.8,455.2L286.47,454.44L287.12,453.67L287.76,452.9L288.38,452.11L289,451.32L289.6,450.52L290.2,449.71L290.79,448.9L291.37,448.08L291.94,447.25L292.51,446.43L293.08,445.6L293.64,444.76L294.2,443.93L294.75,443.09L295.31,442.26L295.87,441.42L296.43,440.59L297,439.76L297.56,438.93L298.14,438.1L298.71,437.28L299.3,436.46L299.88,435.64L300.47,434.82L301.06,434.01L301.66,433.2L302.25,432.39L302.85,431.58L303.45,430.77L304.06,429.96L304.66,429.15L305.26,428.35L305.86,427.54L306.46,426.73L307.06,425.92L307.66,425.11L308.25,424.3L308.85,423.48L309.44,422.67L310.03,421.86L310.63,421.05L311.23,420.25L311.84,419.45L312.46,418.67L313.09,417.9L313.74,417.14L314.4,416.4L315.08,415.68L315.78,414.98L316.5,414.3L317.25,413.65L318.02,413.02L318.82,412.42L319.66,411.86L320.52,411.33L321.43,410.83L322.36,410.38L323.32,409.96L324.31,409.6L325.31,409.28L326.33,409.03L327.35,408.83L328.37,408.7L329.38,408.64L330.39,408.66L331.38,408.75L332.34,408.94L333.23,409.24L334.03,409.67L334.69,410.25L335.23,410.98L335.66,411.81L336.01,412.71L336.31,413.65L336.58,414.59L336.8,415.55L337,416.52L337.16,417.5L337.3,418.49L337.41,419.48L337.5,420.48L337.57,421.49L337.63,422.51L337.67,423.53L337.7,424.55L337.73,425.57L337.75,426.6L337.78,427.62L337.8,428.64L337.83,429.67L337.86,430.68L337.91,431.7L337.97,432.71L338.04,433.72L338.12,434.72L338.21,435.72L338.31,436.71L338.42,437.71L338.54,438.7L338.66,439.69L338.79,440.68L338.93,441.66L339.07,442.65L339.22,443.64L339.37,444.62L339.52,445.61L339.68,446.59L339.84,447.58L340,448.57L340.16,449.56L340.32,450.56L340.48,451.55L340.65,452.55L340.82,453.54L340.99,454.54L341.17,455.53L341.36,456.52L341.56,457.51L341.77,458.5L341.99,459.49L342.22,460.47L342.47,461.44L342.73,462.42L343,463.38L343.3,464.34L343.61,465.3L343.94,466.24L344.3,467.18L344.67,468.11L345.07,469.03L345.5,469.94L345.95,470.83L346.44,471.7L346.95,472.55L347.51,473.38L348.1,474.19L348.72,474.96L349.39,475.71L350.1,476.42L350.85,477.1L351.64,477.75L352.45,478.35L353.29,478.93L354.16,479.46L355.04,479.95L355.94,480.41L356.86,480.82L357.78,481.19L358.72,481.53L359.66,481.83L360.62,482.1L361.58,482.34L362.55,482.55L363.53,482.73L364.52,482.89L365.51,483.03L366.5,483.15L367.5,483.25L368.51,483.34L369.52,483.41L370.52,483.47L371.53,483.53L372.55,483.58L373.56,483.62L374.57,483.67L375.58,483.71L376.58,483.75L377.59,483.79L378.6,483.83L379.61,483.86L380.61,483.89L381.62,483.92L382.62,483.95L383.63,483.97L384.63,483.99L385.64,484.01L386.64,484.03L387.64,484.04L388.65,484.05L389.65,484.05L390.65,484.05L391.66,484.05L392.66,484.04L393.66,484.03L394.66,484.01L395.67,483.99L396.67,483.97L397.67,483.94L398.68,483.91L399.68,483.88L400.68,483.84L401.69,483.8L402.69,483.76L403.69,483.71L404.7,483.66L405.7,483.6L406.7,483.55L407.71,483.49L408.71,483.42L409.71,483.36L410.72,483.29L411.72,483.22L412.72,483.15L413.72,483.07L414.73,482.99L415.73,482.91L416.73,482.83L417.73,482.74L418.74,482.66L419.74,482.57L420.74,482.48L421.74,482.38L422.74,482.29L423.75,482.19L424.75,482.09L425.75,481.99L426.75,481.89L427.75,481.79L428.75,481.68L429.75,481.58L430.75,481.47L431.75,481.36L432.75,481.25L433.75,481.14L434.75,481.03L435.75,480.92L436.75,480.81L437.74,480.69L438.74,480.57L439.74,480.46L440.74,480.34L441.74,480.22L442.74,480.1L443.73,479.98L444.73,479.86L445.73,479.73L446.73,479.61L447.72,479.49L448.72,479.36L449.72,479.23L450.72,479.11L451.71,478.98L452.71,478.85L453.71,478.72L454.7,478.59L455.7,478.46L456.7,478.33L457.69,478.19L458.69,478.06L459.68,477.93L460.68,477.79L461.68,477.66L462.67,477.52L463.67,477.39L464.66,477.25L465.66,477.11L466.65,476.98L467.65,476.84L468.65,476.7L469.64,476.56L470.64,476.42L471.63,476.28L472.63,476.14L473.62,476L474.62,475.86L475.61,475.72L476.61,475.58L477.6,475.44L478.6,475.3L479.59,475.16L480.59,475.02L481.59,474.88L482.58,474.74L483.58,474.59L484.57,474.45L485.57,474.31L486.56,474.17L487.56,474.03L488.55,473.89L489.55,473.75L490.54,473.6L491.54,473.46L492.53,473.32L493.53,473.18L494.53,473.04L495.52,472.9L496.52,472.76L497.51,472.62L498.51,472.48L499.5,472.34L500.5,472.2" fill="none" stroke="#25b365" stroke-width="1.45" stroke-linejoin="round" stroke-linecap="round" clip-path="url(#cf)"/>
<path d="M285.8,490.5L286.81,490.39L287.82,490.27L288.83,490.15L289.83,490.02L290.83,489.89L291.83,489.75L292.83,489.62L293.82,489.48L294.82,489.34L295.81,489.2L296.81,489.06L297.8,488.93L298.8,488.79L299.8,488.66L300.8,488.53L301.8,488.4L302.8,488.28L303.8,488.15L304.8,488.02L305.8,487.88L306.81,487.74L307.81,487.59L308.81,487.43L309.81,487.26L310.81,487.07L311.81,486.87L312.8,486.65L313.8,486.41L314.79,486.15L315.77,485.87L316.75,485.56L317.72,485.22L318.67,484.85L319.6,484.44L320.51,484L321.39,483.52L322.25,483L323.07,482.43L323.85,481.82L324.6,481.17L325.31,480.49L325.97,479.76L326.58,479L327.15,478.21L327.67,477.39L328.16,476.54L328.6,475.66L329,474.76L329.38,473.84L329.72,472.9L330.04,471.94L330.33,470.97L330.6,469.99L330.85,468.99L331.08,468L331.3,466.99L331.52,465.99L331.72,464.98L331.92,463.98L332.11,462.97L332.29,461.97L332.47,460.96L332.64,459.96L332.8,458.96L332.96,457.95L333.11,456.95L333.26,455.94L333.4,454.94L333.54,453.94L333.67,452.93L333.8,451.93L333.93,450.93L334.05,449.93L334.16,448.92L334.28,447.92L334.39,446.92L334.49,445.91L334.6,444.91L334.7,443.91L334.8,442.91L334.9,441.9L334.99,440.9L335.08,439.9L335.18,438.9L335.27,437.9L335.36,436.89L335.45,435.89L335.53,434.89L335.62,433.89L335.71,432.88L335.8,431.88L335.89,430.88L335.98,429.88L336.07,428.87L336.16,427.87L336.25,426.87L336.35,425.87L336.44,424.86L336.54,423.86L336.64,422.86L336.74,421.85L336.85,420.85L336.96,419.85L337.07,418.84L337.18,417.84L337.3,416.84L337.42,415.83L337.55,414.83L337.68,413.82L337.81,412.82L337.95,411.81L338.1,410.81L338.24,409.8L338.4,408.8" fill="none" stroke="#27b2e8" stroke-width="1.35" stroke-linejoin="round" stroke-linecap="round" clip-path="url(#cf)"/>
<path d="M285.8,443.4L286.23,442.42L286.65,441.45L287.07,440.51L287.49,439.58L287.91,438.67L288.33,437.77L288.74,436.88L289.16,436L289.57,435.12L289.98,434.25L290.39,433.38L290.8,432.5L291.21,431.63L291.62,430.74L292.02,429.85L292.42,428.94L292.82,428.02L293.22,427.09L293.62,426.14L294.02,425.17L294.43,424.2L294.83,423.22L295.25,422.24L295.68,421.26L296.13,420.29L296.59,419.33L297.07,418.39L297.57,417.47L298.09,416.57L298.65,415.7L299.23,414.86L299.84,414.07L300.49,413.31L301.18,412.6L301.9,411.94L302.66,411.34L303.45,410.82L304.27,410.38L305.1,410.03L305.95,409.78L306.81,409.66L307.68,409.65L308.54,409.78L309.41,410.03L310.27,410.39L311.12,410.84L311.96,411.36L312.79,411.94L313.6,412.57L314.39,413.23L315.17,413.91L315.92,414.6L316.65,415.31L317.38,416.03L318.08,416.76L318.78,417.5L319.46,418.25L320.14,419.01L320.81,419.77L321.48,420.53L322.15,421.29L322.81,422.05L323.48,422.81L324.15,423.57L324.82,424.32L325.51,425.07L326.2,425.8L326.9,426.53L327.61,427.25L328.32,427.95L329.05,428.65L329.78,429.35L330.53,430.03L331.28,430.7L332.03,431.37L332.8,432.02L333.57,432.67L334.35,433.31L335.14,433.93L335.94,434.55L336.74,435.16L337.55,435.76L338.37,436.36L339.19,436.94L340.02,437.51L340.86,438.07L341.7,438.63L342.55,439.17L343.41,439.71L344.27,440.24L345.13,440.75L346.01,441.26L346.88,441.76L347.77,442.24L348.66,442.72L349.55,443.19L350.45,443.65L351.35,444.1L352.26,444.53L353.18,444.96L354.1,445.38L355.02,445.79L355.95,446.19L356.88,446.58L357.81,446.96L358.75,447.33L359.69,447.69L360.64,448.04L361.59,448.37L362.54,448.7L363.5,449.02L364.46,449.33L365.42,449.63L366.39,449.91L367.36,450.19L368.33,450.46L369.3,450.71L370.28,450.96L371.25,451.19L372.23,451.42L373.21,451.63L374.2,451.83L375.18,452.02L376.17,452.21L377.16,452.38L378.15,452.54L379.14,452.69L380.13,452.82L381.13,452.95L382.12,453.07L383.11,453.17L384.11,453.27L385.11,453.35L386.1,453.43L387.1,453.49L388.1,453.54L389.09,453.59L390.09,453.62L391.09,453.65L392.09,453.66L393.09,453.67L394.09,453.67L395.09,453.66L396.09,453.64L397.1,453.62L398.1,453.58L399.1,453.54L400.1,453.49L401.1,453.44L402.11,453.37L403.11,453.3L404.11,453.23L405.12,453.14L406.12,453.06L407.13,452.96L408.13,452.86L409.13,452.75L410.14,452.64L411.14,452.53L412.14,452.41L413.15,452.28L414.15,452.15L415.16,452.02L416.16,451.88L417.16,451.73L418.17,451.59L419.17,451.44L420.17,451.29L421.18,451.13L422.18,450.97L423.18,450.81L424.18,450.65L425.18,450.48L426.19,450.31L427.19,450.14L428.19,449.97L429.19,449.8L430.19,449.63L431.19,449.45L432.19,449.28L433.18,449.1L434.18,448.93L435.18,448.75L436.18,448.58L437.17,448.4L438.17,448.23L439.16,448.05L440.16,447.88L441.15,447.71L442.14,447.54L443.13,447.37L444.13,447.2L445.12,447.04L446.11,446.88L447.09,446.72L448.08,446.56L449.07,446.4L450.06,446.25L451.04,446.1L452.03,445.95L453.01,445.8L453.99,445.65L454.98,445.5L455.96,445.35L456.95,445.2L457.93,445.04L458.92,444.89L459.9,444.72L460.89,444.56L461.87,444.39L462.86,444.21L463.85,444.03L464.83,443.84L465.82,443.65L466.81,443.45L467.8,443.25L468.8,443.04L469.79,442.83L470.78,442.62L471.77,442.41L472.77,442.19L473.76,441.98L474.75,441.76L475.75,441.55L476.74,441.34L477.73,441.14L478.73,440.93L479.72,440.73L480.71,440.54L481.7,440.35L482.7,440.16L483.69,439.98L484.68,439.81L485.67,439.63L486.66,439.46L487.65,439.29L488.65,439.13L489.64,438.97L490.63,438.81L491.62,438.65L492.61,438.49L493.6,438.34L494.59,438.19L495.59,438.03L496.58,437.88L497.57,437.73L498.56,437.58L499.55,437.43L500.55,437.28L501.54,437.12L502.53,436.97L503.53,436.81L504.52,436.66L505.52,436.5L506.51,436.34L507.51,436.18L508.51,436.01L509.5,435.84L510.5,435.67L511.5,435.5" fill="none" stroke="#1f77c5" stroke-width="1.35" stroke-linejoin="round" stroke-linecap="round" clip-path="url(#cf)"/>
<text x="263.4" y="545.3" font-size="11" text-anchor="middle" font-weight="normal" fill="#1a1a1a" font-family='"Liberation Serif", serif' stroke="#1a1a1a" stroke-width="0.18">(<tspan font-weight="bold">d</tspan>)</text>
</svg>
</body></html>
